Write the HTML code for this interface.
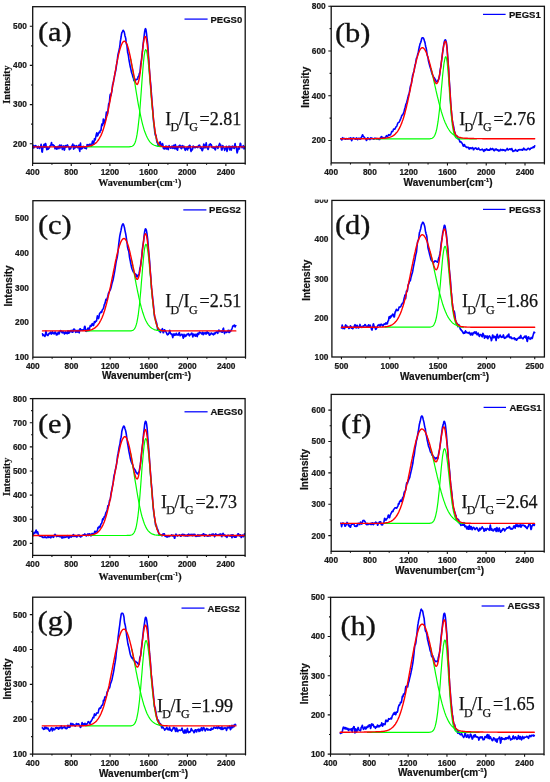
<!DOCTYPE html>
<html><head><meta charset="utf-8"><title>Raman spectra</title><style>html,body{margin:0;padding:0;background:#fff}svg{display:block}</style></head><body>
<svg width="550" height="782" viewBox="0 0 550 782">
<style>.tl{font-family:"Liberation Sans", Arial, sans-serif;font-weight:bold;font-size:8.3px;fill:#1a1a1a;stroke:#1a1a1a;stroke-width:0.22px}.tt{font-family:"Liberation Sans", Arial, sans-serif;font-weight:bold;font-size:10px;fill:#111;stroke:#111;stroke-width:0.2px}.ts{font-family:"Liberation Serif", "Times New Roman", serif;font-weight:bold;font-size:10.1px;fill:#111;stroke:#111;stroke-width:0.2px}.pl{font-family:"Liberation Serif", "Times New Roman", serif;font-size:30.5px;fill:#111;stroke:#111;stroke-width:0.35px}.lg{font-family:"Liberation Sans", Arial, sans-serif;font-weight:bold;font-size:9.5px;fill:#111;stroke:#111;stroke-width:0.2px}.rt{font-family:"Liberation Serif", "Times New Roman", serif;font-size:18px;fill:#111;stroke:#111;stroke-width:0.25px}</style>
<rect width="550" height="782" fill="#fff"/>
<clipPath id="clipa"><rect x="32.60" y="6.70" width="212.60" height="156.60"/></clipPath>
<g clip-path="url(#clipa)" fill="none" stroke-linejoin="round" stroke-linecap="round">
<path d="M32.6,145.7 33.0,145.1 33.4,146.7 33.8,147.9 34.1,146.1 34.5,145.9 34.9,146.9 35.3,146.1 35.7,145.6 36.1,146.1 36.5,146.2 36.9,146.6 37.2,147.7 37.6,148.1 38.0,147.3 38.4,146.3 38.8,146.6 39.2,147.9 39.6,148.5 39.9,147.9 40.3,147.3 40.7,146.3 41.1,144.3 41.5,146.4 41.9,151.8 42.3,152.1 42.7,148.9 43.0,147.5 43.4,146.7 43.8,144.7 44.2,144.3 44.6,147.2 45.0,146.7 45.4,143.5 45.7,143.7 46.1,145.7 46.5,148.4 46.9,149.7 47.3,147.8 47.7,147.5 48.1,149.2 48.4,148.8 48.8,148.0 49.2,148.1 49.6,147.0 50.0,145.8 50.4,145.8 50.8,145.5 51.2,143.6 51.5,142.5 51.9,144.0 52.3,145.1 52.7,144.7 53.1,144.7 53.5,145.4 53.9,146.2 54.2,145.6 54.6,146.7 55.0,148.8 55.4,148.2 55.8,146.7 56.2,147.1 56.6,149.0 57.0,149.2 57.3,147.8 57.7,147.3 58.1,146.3 58.5,146.8 58.9,148.6 59.3,146.8 59.7,145.0 60.0,147.0 60.4,147.8 60.8,146.1 61.2,145.2 61.6,145.5 62.0,147.9 62.4,149.5 62.8,148.5 63.1,147.0 63.5,145.9 63.9,147.2 64.3,150.2 64.7,149.3 65.1,145.9 65.5,145.6 65.8,147.3 66.2,147.0 66.6,145.8 67.0,145.1 67.4,144.9 67.8,145.9 68.2,147.0 68.5,146.5 68.9,147.2 69.3,149.7 69.7,148.8 70.1,148.0 70.5,148.8 70.9,148.0 71.3,146.9 71.6,146.1 72.0,145.9 72.4,145.0 72.8,144.1 73.2,146.0 73.6,149.1 74.0,148.5 74.3,145.4 74.7,146.2 75.1,147.9 75.5,147.3 75.9,146.4 76.3,145.6 76.7,146.1 77.1,147.4 77.4,147.6 77.8,147.5 78.2,147.6 78.6,145.4 79.0,145.1 79.4,149.9 79.8,151.4 80.1,145.8 80.5,143.1 80.9,147.3 81.3,149.0 81.7,147.5 82.1,148.0 82.5,148.4 82.9,147.2 83.2,146.4 83.6,146.6 84.0,146.6 84.4,147.3 84.8,148.2 85.2,148.3 85.6,148.1 85.9,147.9 86.3,148.8 86.7,147.5 87.1,144.6 87.5,144.8 87.9,145.4 88.3,145.1 88.6,145.8 89.0,145.5 89.4,144.2 89.8,144.8 90.2,145.4 90.6,144.2 91.0,144.9 91.4,146.3 91.7,145.7 92.1,142.8 92.5,141.1 92.9,142.4 93.3,143.8 93.7,144.2 94.1,141.5 94.4,138.8 94.8,139.6 95.2,139.9 95.6,137.9 96.0,135.9 96.4,134.0 96.8,132.7 97.2,134.4 97.5,136.0 97.9,135.2 98.3,133.9 98.7,133.0 99.1,132.2 99.5,132.7 99.9,132.7 100.2,130.6 100.6,130.6 101.0,130.4 101.4,126.7 101.8,124.1 102.2,124.2 102.6,125.4 103.0,123.5 103.3,119.0 103.7,119.7 104.1,123.1 104.5,122.4 104.9,121.0 105.3,120.4 105.7,118.2 106.0,115.3 106.4,112.1 106.8,112.6 107.2,115.0 107.6,113.4 108.0,110.1 108.4,106.3 108.7,103.7 109.1,103.3 109.5,101.5 109.9,96.3 110.3,94.2 110.7,95.9 111.1,94.9 111.5,92.8 111.8,91.6 112.2,88.5 112.6,84.6 113.0,84.0 113.4,82.3 113.8,79.3 114.2,78.0 114.5,76.3 114.9,74.0 115.3,72.3 115.7,70.8 116.1,68.1 116.5,65.1 116.9,62.6 117.3,60.2 117.6,57.3 118.0,54.5 118.4,52.9 118.8,51.3 119.2,49.3 119.6,47.4 120.0,44.5 120.3,41.3 120.7,39.4 121.1,37.0 121.5,34.1 121.9,32.4 122.3,31.9 122.7,31.3 123.1,30.3 123.4,30.3 123.8,31.1 124.2,31.8 124.6,33.6 125.0,35.9 125.4,37.1 125.8,38.8 126.1,41.9 126.5,44.3 126.9,45.3 127.3,49.2 127.7,52.8 128.1,54.1 128.5,56.2 128.8,58.7 129.2,61.1 129.6,63.2 130.0,65.3 130.4,67.3 130.8,68.9 131.2,70.9 131.6,72.7 131.9,73.5 132.3,74.3 132.7,76.2 133.1,77.4 133.5,78.3 133.9,80.5 134.3,80.9 134.6,80.4 135.0,80.7 135.4,80.2 135.8,79.3 136.2,79.3 136.6,79.7 137.0,79.4 137.4,79.1 137.7,78.5 138.1,76.8 138.5,76.4 138.9,76.0 139.3,73.7 139.7,72.9 140.1,71.9 140.4,67.6 140.8,63.7 141.2,62.0 141.6,58.8 142.0,55.0 142.4,51.7 142.8,47.2 143.2,43.5 143.5,41.1 143.9,38.0 144.3,34.5 144.7,31.4 145.1,29.3 145.5,28.7 145.9,29.4 146.2,31.2 146.6,34.2 147.0,38.0 147.4,41.1 147.8,44.9 148.2,51.3 148.6,57.7 149.0,62.9 149.3,68.5 149.7,73.8 150.1,78.5 150.5,82.5 150.9,86.5 151.3,92.2 151.7,97.3 152.0,101.8 152.4,106.4 152.8,110.6 153.2,116.6 153.6,121.8 154.0,124.5 154.4,127.9 154.7,131.4 155.1,134.1 155.5,135.4 155.9,135.0 156.3,137.1 156.7,140.8 157.1,142.6 157.5,142.9 157.8,143.9 158.2,145.7 158.6,146.0 159.0,145.3 159.4,144.3 159.8,142.3 160.2,141.8 160.5,143.0 160.9,144.5 161.3,145.6 161.7,144.8 162.1,144.3 162.5,143.5 162.9,144.7 163.3,148.2 163.6,148.7 164.0,147.8 164.4,147.8 164.8,148.9 165.2,148.7 165.6,146.7 166.0,146.0 166.3,147.3 166.7,149.0 167.1,148.3 167.5,146.6 167.9,148.3 168.3,149.6 168.7,147.3 169.1,145.6 169.4,146.2 169.8,146.8 170.2,147.4 170.6,148.2 171.0,148.0 171.4,147.4 171.8,146.2 172.1,146.1 172.5,148.0 172.9,148.3 173.3,146.7 173.7,145.2 174.1,146.6 174.5,148.6 174.8,147.3 175.2,144.5 175.6,145.1 176.0,149.0 176.4,148.8 176.8,147.0 177.2,149.7 177.6,150.2 177.9,147.0 178.3,146.2 178.7,147.5 179.1,147.2 179.5,145.9 179.9,145.2 180.3,145.7 180.6,146.8 181.0,148.4 181.4,148.7 181.8,147.1 182.2,145.5 182.6,146.4 183.0,147.8 183.4,146.6 183.7,146.0 184.1,147.4 184.5,148.3 184.9,149.5 185.3,150.3 185.7,148.5 186.1,147.8 186.4,148.2 186.8,148.2 187.2,149.6 187.6,150.0 188.0,147.3 188.4,146.2 188.8,148.2 189.2,147.3 189.5,145.4 189.9,145.4 190.3,146.3 190.7,150.1 191.1,151.4 191.5,149.2 191.9,149.2 192.2,150.0 192.6,148.9 193.0,146.2 193.4,146.0 193.8,147.4 194.2,146.7 194.6,146.9 194.9,147.7 195.3,147.8 195.7,147.4 196.1,146.6 196.5,147.0 196.9,147.2 197.3,146.8 197.7,147.6 198.0,147.3 198.4,145.6 198.8,145.4 199.2,145.9 199.6,145.2 200.0,146.2 200.4,148.3 200.7,148.4 201.1,147.2 201.5,148.0 201.9,150.2 202.3,150.7 202.7,149.9 203.1,148.3 203.5,145.4 203.8,144.0 204.2,144.9 204.6,146.7 205.0,148.0 205.4,147.2 205.8,144.6 206.2,142.9 206.5,144.8 206.9,147.3 207.3,148.2 207.7,149.0 208.1,149.4 208.5,148.4 208.9,146.1 209.3,144.6 209.6,145.1 210.0,144.1 210.4,143.8 210.8,144.9 211.2,144.5 211.6,145.6 212.0,147.5 212.3,147.5 212.7,147.6 213.1,148.1 213.5,148.0 213.9,147.2 214.3,147.5 214.7,148.7 215.0,149.5 215.4,149.8 215.8,147.9 216.2,146.3 216.6,146.7 217.0,146.6 217.4,147.0 217.8,148.4 218.1,148.1 218.5,146.3 218.9,145.4 219.3,144.3 219.7,143.4 220.1,145.0 220.5,145.2 220.8,145.0 221.2,147.5 221.6,150.0 222.0,150.0 222.4,147.5 222.8,145.6 223.2,146.2 223.6,147.5 223.9,147.7 224.3,148.7 224.7,150.4 225.1,148.9 225.5,148.5 225.9,148.1 226.3,146.4 226.6,149.0 227.0,151.4 227.4,149.5 227.8,147.5 228.2,147.6 228.6,146.8 229.0,146.0 229.4,147.8 229.7,150.0 230.1,148.3 230.5,146.5 230.9,149.0 231.3,150.1 231.7,147.9 232.1,146.3 232.4,146.0 232.8,147.1 233.2,148.0 233.6,146.6 234.0,147.3 234.4,148.5 234.8,144.7 235.1,143.5 235.5,147.0 235.9,147.1 236.3,146.6 236.7,150.4 237.1,152.9 237.5,151.7 237.9,150.0 238.2,148.5 238.6,146.9 239.0,147.7 239.4,148.9 239.8,146.3 240.2,143.3 240.6,143.5 240.9,145.2 241.3,146.1 241.7,146.9 242.1,147.8 242.5,147.3 242.9,146.3 243.3,145.6 243.7,146.9 244.0,148.9 244.4,147.3 244.8,146.5 245.2,148.5" stroke="#0000ff" stroke-width="1.6"/>
<path d="M130.7,59.2 131.4,63.0 132.1,67.0 132.9,71.2 133.6,75.5 134.3,79.8 135.0,84.2 135.7,88.6 136.4,93.0 137.1,97.2 137.8,101.3 138.5,105.3 139.3,109.1 140.0,112.7 140.7,116.1 141.4,119.3 142.1,122.3 142.8,125.1 143.5,127.6 144.2,130.0 144.9,132.1 145.7,134.0 146.4,135.7 147.1,137.2 147.8,138.6 148.5,139.8 149.2,140.9 149.9,141.8 150.6,142.6 151.3,143.3 152.1,143.9 152.8,144.4 153.5,144.8 154.2,145.2 154.9,145.5 155.6,145.7 156.3,145.9 157.0,146.1 157.7,146.3 158.5,146.4 159.2,146.5 159.9,146.6 160.6,146.6 161.3,146.7 162.0,146.7" stroke="#00ff00" stroke-width="1.2"/>
<path d="M86.6,146.9 87.3,146.9 88.1,146.9 88.8,146.9 89.5,146.9 90.2,146.9 90.9,146.9 91.6,146.9 92.3,146.9 93.0,146.9 93.7,146.9 94.5,146.9 95.2,146.9 95.9,146.9 96.6,146.9 97.3,146.9 98.0,146.9 98.7,146.9 99.4,146.9 100.1,146.9 100.9,146.9 101.6,146.9 102.3,146.9 103.0,146.9 103.7,146.9 104.4,146.9 105.1,146.9 105.8,146.9 106.5,146.9 107.3,146.9 108.0,146.9 108.7,146.9 109.4,146.9 110.1,146.9 110.8,146.9 111.5,146.9 112.2,146.9 112.9,146.9 113.7,146.9 114.4,146.9 115.1,146.9 115.8,146.9 116.5,146.9 117.2,146.9 117.9,146.9 118.6,146.9 119.3,146.9 120.1,146.9 120.8,146.9 121.5,146.9 122.2,146.9 122.9,146.9 123.6,146.9 124.3,146.9 125.0,146.9 125.7,146.9 126.5,146.9 127.2,146.9 127.9,146.8 128.6,146.8 129.3,146.8 130.0,146.7 130.7,146.7 131.4,146.5 132.1,146.2 132.9,145.8 133.6,145.2 134.3,144.2 135.0,142.8 135.7,140.7 136.4,137.9 137.1,134.2 137.8,129.4 138.5,123.4 139.3,116.2 140.0,107.9 140.7,98.8 141.4,89.1 142.1,79.3 142.8,70.0 143.5,61.9 144.2,55.5 144.9,51.3 145.7,49.6 146.4,50.4 147.1,53.3 147.8,58.1 148.5,64.6 149.2,72.2 149.9,80.6 150.6,89.4 151.3,98.1 152.1,106.4 152.8,114.0 153.5,120.8 154.2,126.6 154.9,131.5 155.6,135.4 156.3,138.6 157.0,141.0 157.7,142.8 158.5,144.1 159.2,145.0 159.9,145.7" stroke="#00ff00" stroke-width="1.2"/>
<path d="M32.6,146.9 33.3,146.9 34.0,146.9 34.7,146.9 35.4,146.9 36.2,146.9 36.9,146.9 37.6,146.9 38.3,146.9 39.0,146.9 39.7,146.9 40.4,146.9 41.1,146.9 41.8,146.9 42.6,146.9 43.3,146.9 44.0,146.9 44.7,146.9 45.4,146.9 46.1,146.9 46.8,146.9 47.5,146.9 48.2,146.9 49.0,146.9 49.7,146.9 50.4,146.9 51.1,146.9 51.8,146.9 52.5,146.9 53.2,146.9 53.9,146.9 54.6,146.9 55.4,146.9 56.1,146.9 56.8,146.9 57.5,146.9 58.2,146.9 58.9,146.9 59.6,146.9 60.3,146.9 61.0,146.9 61.8,146.9 62.5,146.9 63.2,146.9 63.9,146.9 64.6,146.9 65.3,146.9 66.0,146.9 66.7,146.9 67.4,146.9 68.2,146.9 68.9,146.9 69.6,146.9 70.3,146.9 71.0,146.9 71.7,146.9 72.4,146.9 73.1,146.9 73.8,146.9 74.6,146.9 75.3,146.9 76.0,146.9 76.7,146.9 77.4,146.9 78.1,146.8 78.8,146.8 79.5,146.8 80.2,146.8 81.0,146.8 81.7,146.8 82.4,146.8 83.1,146.8 83.8,146.7 84.5,146.7 85.2,146.6 85.9,146.6 86.6,146.5 87.3,146.4 88.1,146.4 88.8,146.2 89.5,146.1 90.2,145.9 90.9,145.7 91.6,145.5 92.3,145.2 93.0,144.9 93.7,144.5 94.5,144.0 95.2,143.5 95.9,142.9 96.6,142.2 97.3,141.4 98.0,140.5 98.7,139.5 99.4,138.3 100.1,137.0 100.9,135.6 101.6,134.0 102.3,132.2 103.0,130.2 103.7,128.1 104.4,125.8 105.1,123.2 105.8,120.5 106.5,117.6 107.3,114.5 108.0,111.3 108.7,107.8 109.4,104.2 110.1,100.5 110.8,96.6 111.5,92.7 112.2,88.7 112.9,84.6 113.7,80.5 114.4,76.4 115.1,72.4 115.8,68.5 116.5,64.7 117.2,61.0 117.9,57.6 118.6,54.4 119.3,51.5 120.1,48.9 120.8,46.6 121.5,44.7 122.2,43.2 122.9,42.1 123.6,41.4 124.3,41.2 125.0,41.4 125.7,42.1 126.5,43.3 127.2,44.9 127.9,47.0 128.6,49.5 129.3,52.4 130.0,55.5 130.7,59.0 131.4,62.6 132.1,66.4 132.9,70.2 133.6,73.8 134.3,77.2 135.0,80.2 135.7,82.5 136.4,84.0 137.1,84.5 137.8,83.8 138.5,81.8 139.3,78.5 140.0,73.8 140.7,68.0 141.4,61.5 142.1,54.8 142.8,48.3 143.5,42.7 144.2,38.6 144.9,36.5 145.7,36.7 146.4,39.3 147.1,43.7 147.8,49.9 148.5,57.5 149.2,66.2 149.9,75.6 150.6,85.1 151.3,94.5 152.1,103.4 152.8,111.5 153.5,118.7 154.2,124.9 154.9,130.1 155.6,134.3 156.3,137.7 157.0,140.2 157.7,142.2 158.5,143.6 159.2,144.6 159.9,145.4 160.6,145.9 161.3,146.2 162.0,146.4 162.7,146.6 163.4,146.7 164.1,146.7 164.9,146.8 165.6,146.8 166.3,146.8 167.0,146.8 167.7,146.8 168.4,146.8 169.1,146.9 169.8,146.9 170.5,146.9 171.3,146.9 172.0,146.9 172.7,146.9 173.4,146.9 174.1,146.9 174.8,146.9 175.5,146.9 176.2,146.9 176.9,146.9 177.7,146.9 178.4,146.9 179.1,146.9 179.8,146.9 180.5,146.9 181.2,146.9 181.9,146.9 182.6,146.9 183.3,146.9 184.1,146.9 184.8,146.9 185.5,146.9 186.2,146.9 186.9,146.9 187.6,146.9 188.3,146.9 189.0,146.9 189.7,146.9 190.5,146.9 191.2,146.9 191.9,146.9 192.6,146.9 193.3,146.9 194.0,146.9 194.7,146.9 195.4,146.9 196.1,146.9 196.8,146.9 197.6,146.9 198.3,146.9 199.0,146.9 199.7,146.9 200.4,146.9 201.1,146.9 201.8,146.9 202.5,146.9 203.2,146.9 204.0,146.9 204.7,146.9 205.4,146.9 206.1,146.9 206.8,146.9 207.5,146.9 208.2,146.9 208.9,146.9 209.6,146.9 210.4,146.9 211.1,146.9 211.8,146.9 212.5,146.9 213.2,146.9 213.9,146.9 214.6,146.9 215.3,146.9 216.0,146.9 216.8,146.9 217.5,146.9 218.2,146.9 218.9,146.9 219.6,146.9 220.3,146.9 221.0,146.9 221.7,146.9 222.4,146.9 223.2,146.9 223.9,146.9 224.6,146.9 225.3,146.9 226.0,146.9 226.7,146.9 227.4,146.9 228.1,146.9 228.8,146.9 229.6,146.9 230.3,146.9 231.0,146.9 231.7,146.9 232.4,146.9 233.1,146.9 233.8,146.9 234.5,146.9 235.2,146.9 236.0,146.9 236.7,146.9 237.4,146.9 238.1,146.9 238.8,146.9 239.5,146.9 240.2,146.9 240.9,146.9 241.6,146.9 242.4,146.9 243.1,146.9 243.8,146.9 244.5,146.9 245.2,146.9" stroke="#ff0000" stroke-width="1.4"/>
</g>
<rect x="32.70" y="6.70" width="212.50" height="156.60" fill="none" stroke="#111" stroke-width="1.3"/>
<path d="M32.60,163.30v2.6 M71.25,163.30v2.6 M109.91,163.30v2.6 M148.56,163.30v2.6 M187.22,163.30v2.6 M225.87,163.30v2.6 M51.93,163.30v1.5 M90.58,163.30v1.5 M129.24,163.30v1.5 M167.89,163.30v1.5 M206.55,163.30v1.5 M245.20,163.30v1.5 M32.60,143.73h-2.8 M32.60,104.58h-2.8 M32.60,65.42h-2.8 M32.60,26.27h-2.8 M32.60,124.15h-1.5 M32.60,85.00h-1.5 M32.60,45.85h-1.5" stroke="#111" stroke-width="1.1" fill="none"/>
<text x="32.60" y="175.30" text-anchor="middle" class="tl">400</text>
<text x="71.25" y="175.30" text-anchor="middle" class="tl">800</text>
<text x="109.91" y="175.30" text-anchor="middle" class="tl">1200</text>
<text x="148.56" y="175.30" text-anchor="middle" class="tl">1600</text>
<text x="187.22" y="175.30" text-anchor="middle" class="tl">2000</text>
<text x="225.87" y="175.30" text-anchor="middle" class="tl">2400</text>
<text x="26.90" y="146.63" text-anchor="end" class="tl">200</text>
<text x="26.90" y="107.48" text-anchor="end" class="tl">300</text>
<text x="26.90" y="68.33" text-anchor="end" class="tl">400</text>
<text x="26.90" y="29.17" text-anchor="end" class="tl">500</text>
<text x="98.20" y="186.20" class="ts">Wavenumber(cm<tspan dy="-3.6" font-size="6.2">-1</tspan><tspan dy="3.6">)</tspan></text>
<text transform="translate(9.80,84.60) rotate(-90)" text-anchor="middle" class="ts">Intensity</text>
<text transform="translate(37.90,41.15) scale(1,0.93)" class="pl">(a)</text>
<path d="M184.50,19.10H207.60" stroke="#0000ff" stroke-width="1.25"/>
<text x="210.50" y="22.50" class="lg">PEGS0</text>
<text x="165.30" y="124.50" class="rt">I<tspan x="170.50" dy="6.4" font-size="12">D</tspan><tspan x="178.70" dy="-6.4">/I</tspan><tspan x="189.20" dy="6.4" font-size="12">G</tspan><tspan x="199.60" dy="-6.4">=2.81</tspan></text>
<clipPath id="clipb"><rect x="331.10" y="6.30" width="213.30" height="156.60"/></clipPath>
<g clip-path="url(#clipb)" fill="none" stroke-linejoin="round" stroke-linecap="round">
<path d="M340.8,138.8 341.2,139.2 341.6,139.9 342.0,139.8 342.3,138.1 342.7,137.7 343.1,138.4 343.5,138.4 343.9,138.6 344.3,138.7 344.7,138.5 345.1,138.8 345.4,139.3 345.8,139.2 346.2,138.8 346.6,138.6 347.0,138.7 347.4,138.9 347.8,139.1 348.2,139.0 348.6,138.5 348.9,138.3 349.3,138.4 349.7,138.7 350.1,139.0 350.5,138.0 350.9,137.8 351.3,139.6 351.7,140.6 352.0,139.9 352.4,138.7 352.8,138.1 353.2,137.9 353.6,138.0 354.0,138.3 354.4,138.6 354.8,138.5 355.1,138.6 355.5,139.3 355.9,139.2 356.3,138.2 356.7,137.9 357.1,139.0 357.5,139.7 357.9,139.1 358.2,138.4 358.6,138.2 359.0,138.6 359.4,139.1 359.8,138.3 360.2,138.2 360.6,139.1 361.0,138.4 361.3,137.4 361.7,137.0 362.1,135.8 362.5,134.7 362.9,135.3 363.3,136.4 363.7,136.8 364.1,137.0 364.5,137.7 364.8,138.3 365.2,138.4 365.6,138.5 366.0,139.5 366.4,140.5 366.8,140.1 367.2,138.7 367.6,137.8 367.9,137.8 368.3,138.4 368.7,138.9 369.1,138.6 369.5,138.9 369.9,139.6 370.3,139.0 370.7,137.8 371.0,137.8 371.4,138.4 371.8,138.8 372.2,138.8 372.6,138.3 373.0,138.6 373.4,139.1 373.8,139.1 374.1,139.1 374.5,138.4 374.9,138.1 375.3,138.3 375.7,138.2 376.1,138.5 376.5,138.9 376.9,139.0 377.3,138.8 377.6,138.6 378.0,138.9 378.4,139.1 378.8,139.2 379.2,139.5 379.6,139.5 380.0,138.8 380.4,137.9 380.7,137.4 381.1,136.9 381.5,136.5 381.9,137.3 382.3,137.6 382.7,137.3 383.1,137.6 383.5,137.8 383.8,137.8 384.2,138.2 384.6,138.2 385.0,137.4 385.4,137.2 385.8,137.1 386.2,135.9 386.6,135.7 386.9,136.4 387.3,136.6 387.7,136.2 388.1,135.6 388.5,134.8 388.9,134.6 389.3,135.1 389.7,135.1 390.0,135.0 390.4,134.8 390.8,134.1 391.2,133.0 391.6,131.8 392.0,131.4 392.4,131.6 392.8,131.3 393.2,130.2 393.5,129.2 393.9,129.0 394.3,129.2 394.7,129.3 395.1,128.8 395.5,127.8 395.9,127.0 396.3,126.7 396.6,126.4 397.0,125.5 397.4,124.3 397.8,123.2 398.2,122.6 398.6,122.4 399.0,122.2 399.4,121.6 399.7,121.0 400.1,120.2 400.5,119.1 400.9,118.2 401.3,117.1 401.7,115.8 402.1,115.1 402.5,115.0 402.8,114.8 403.2,113.7 403.6,112.7 404.0,111.8 404.4,109.9 404.8,108.5 405.2,107.2 405.6,105.4 405.9,104.1 406.3,103.4 406.7,102.5 407.1,100.7 407.5,99.2 407.9,97.8 408.3,95.7 408.7,94.5 409.1,93.9 409.4,92.1 409.8,89.9 410.2,87.3 410.6,85.6 411.0,84.9 411.4,83.2 411.8,80.9 412.2,78.5 412.5,76.0 412.9,74.4 413.3,73.2 413.7,71.9 414.1,70.7 414.5,68.2 414.9,65.8 415.3,64.6 415.6,63.2 416.0,60.6 416.4,58.3 416.8,57.6 417.2,56.5 417.6,54.7 418.0,53.6 418.4,51.8 418.7,49.7 419.1,48.0 419.5,46.3 419.9,44.3 420.3,43.2 420.7,42.6 421.1,41.3 421.5,39.5 421.8,38.2 422.2,37.7 422.6,37.7 423.0,37.7 423.4,38.1 423.8,38.9 424.2,40.1 424.6,41.6 425.0,42.6 425.3,44.4 425.7,46.5 426.1,47.8 426.5,49.9 426.9,53.1 427.3,55.4 427.7,56.5 428.1,58.2 428.4,60.6 428.8,62.4 429.2,63.8 429.6,65.4 430.0,66.8 430.4,67.9 430.8,69.2 431.2,70.8 431.5,72.1 431.9,73.3 432.3,74.5 432.7,75.3 433.1,76.0 433.5,76.9 433.9,77.4 434.3,77.8 434.6,78.3 435.0,79.0 435.4,79.6 435.8,80.5 436.2,81.3 436.6,81.8 437.0,81.6 437.4,81.0 437.8,80.6 438.1,80.1 438.5,79.6 438.9,78.4 439.3,76.8 439.7,74.3 440.1,70.6 440.5,68.1 440.9,66.4 441.2,63.6 441.6,60.5 442.0,57.4 442.4,54.1 442.8,51.1 443.2,48.3 443.6,45.6 444.0,43.4 444.3,41.7 444.7,40.5 445.1,39.9 445.5,39.9 445.9,40.6 446.3,42.1 446.7,44.5 447.1,48.2 447.4,52.9 447.8,58.0 448.2,63.5 448.6,68.9 449.0,75.4 449.4,82.2 449.8,87.7 450.2,93.9 450.5,100.9 450.9,105.9 451.3,110.4 451.7,115.3 452.1,119.0 452.5,121.6 452.9,123.7 453.3,125.3 453.7,126.9 454.0,129.3 454.4,131.0 454.8,132.3 455.2,133.8 455.6,135.6 456.0,136.7 456.4,136.5 456.8,135.9 457.1,136.0 457.5,137.1 457.9,138.4 458.3,139.1 458.7,138.8 459.1,139.3 459.5,140.8 459.9,141.9 460.2,142.0 460.6,141.5 461.0,141.9 461.4,142.7 461.8,142.9 462.2,143.3 462.6,144.3 463.0,145.4 463.3,146.1 463.7,146.0 464.1,144.7 464.5,144.5 464.9,146.1 465.3,146.4 465.7,146.4 466.1,147.1 466.4,147.5 466.8,147.5 467.2,147.2 467.6,147.4 468.0,147.5 468.4,147.3 468.8,148.3 469.2,149.1 469.6,148.5 469.9,147.7 470.3,147.8 470.7,148.3 471.1,148.7 471.5,148.3 471.9,147.9 472.3,147.7 472.7,147.5 473.0,148.5 473.4,149.8 473.8,149.7 474.2,148.7 474.6,148.4 475.0,148.3 475.4,148.1 475.8,147.8 476.1,148.2 476.5,149.1 476.9,149.0 477.3,149.0 477.7,149.3 478.1,148.6 478.5,148.0 478.9,148.6 479.2,149.2 479.6,149.6 480.0,150.0 480.4,149.9 480.8,149.8 481.2,149.7 481.6,149.7 482.0,149.2 482.3,149.1 482.7,149.7 483.1,150.0 483.5,151.0 483.9,151.4 484.3,150.3 484.7,149.5 485.1,149.8 485.5,150.4 485.8,150.1 486.2,149.2 486.6,148.9 487.0,149.2 487.4,149.7 487.8,150.1 488.2,150.2 488.6,149.8 488.9,149.7 489.3,150.3 489.7,150.3 490.1,149.1 490.5,148.4 490.9,148.9 491.3,149.5 491.7,149.5 492.0,149.0 492.4,148.6 492.8,148.5 493.2,149.3 493.6,150.3 494.0,150.6 494.4,150.8 494.8,150.3 495.1,149.1 495.5,149.2 495.9,149.7 496.3,149.0 496.7,149.3 497.1,150.1 497.5,149.8 497.9,149.9 498.2,150.7 498.6,151.0 499.0,150.2 499.4,150.3 499.8,150.9 500.2,150.0 500.6,149.3 501.0,149.8 501.4,149.9 501.7,150.1 502.1,150.4 502.5,149.8 502.9,149.5 503.3,150.1 503.7,150.0 504.1,149.8 504.5,150.2 504.8,150.6 505.2,150.9 505.6,150.6 506.0,149.9 506.4,149.8 506.8,149.3 507.2,148.4 507.6,149.2 507.9,149.9 508.3,150.0 508.7,149.7 509.1,149.3 509.5,149.3 509.9,148.8 510.3,149.0 510.7,149.7 511.0,149.7 511.4,149.1 511.8,148.5 512.2,149.5 512.6,150.9 513.0,151.5 513.4,151.2 513.8,150.7 514.2,150.8 514.5,150.9 514.9,150.6 515.3,149.7 515.7,149.5 516.1,150.5 516.5,150.8 516.9,150.9 517.3,151.3 517.6,151.2 518.0,150.4 518.4,149.7 518.8,149.8 519.2,150.0 519.6,149.5 520.0,149.5 520.4,149.7 520.7,149.9 521.1,150.0 521.5,149.5 521.9,149.5 522.3,150.2 522.7,150.2 523.1,149.2 523.5,148.4 523.8,148.2 524.2,149.1 524.6,149.6 525.0,149.7 525.4,149.5 525.8,149.5 526.2,150.0 526.6,150.0 526.9,149.5 527.3,149.2 527.7,148.7 528.1,148.2 528.5,148.2 528.9,148.6 529.3,149.2 529.7,149.6 530.1,149.4 530.4,148.7 530.8,148.1 531.2,148.3 531.6,148.3 532.0,147.6 532.4,147.6 532.8,147.6 533.2,146.8 533.5,146.8 533.9,147.6 534.3,147.1 534.7,145.8" stroke="#0000ff" stroke-width="1.6"/>
<path d="M430.9,68.2 431.6,70.9 432.2,73.7 432.9,76.5 433.5,79.4 434.2,82.3 434.8,85.2 435.5,88.1 436.1,90.9 436.8,93.8 437.4,96.5 438.1,99.2 438.7,101.9 439.4,104.4 440.0,106.8 440.7,109.2 441.3,111.5 442.0,113.6 442.6,115.6 443.3,117.6 443.9,119.4 444.6,121.1 445.2,122.7 445.9,124.1 446.5,125.5 447.2,126.8 447.8,128.0 448.5,129.0 449.1,130.0 449.7,130.9 450.4,131.8 451.0,132.5 451.7,133.2 452.3,133.8 453.0,134.3 453.6,134.8 454.3,135.3 454.9,135.7 455.6,136.0 456.2,136.3 456.9,136.6 457.5,136.9" stroke="#00ff00" stroke-width="1.2"/>
<path d="M373.9,138.9 374.5,138.9 375.2,138.9 375.8,138.9 376.5,138.9 377.1,138.9 377.8,138.9 378.4,138.9 379.1,138.9 379.7,138.9 380.4,138.9 381.0,138.9 381.7,138.9 382.3,138.9 382.9,138.9 383.6,138.9 384.2,138.9 384.9,138.9 385.5,138.9 386.2,138.9 386.8,138.9 387.5,138.9 388.1,138.9 388.8,138.9 389.4,138.9 390.1,138.9 390.7,138.9 391.4,138.9 392.0,138.9 392.7,138.9 393.3,138.9 394.0,138.9 394.6,138.9 395.3,138.9 395.9,138.9 396.6,138.9 397.2,138.9 397.9,138.9 398.5,138.9 399.2,138.9 399.8,138.9 400.5,138.9 401.1,138.9 401.8,138.9 402.4,138.9 403.1,138.9 403.7,138.9 404.4,138.9 405.0,138.9 405.6,138.9 406.3,138.9 406.9,138.9 407.6,138.9 408.2,138.9 408.9,138.9 409.5,138.9 410.2,138.9 410.8,138.9 411.5,138.9 412.1,138.9 412.8,138.9 413.4,138.9 414.1,138.9 414.7,138.9 415.4,138.9 416.0,138.9 416.7,138.9 417.3,138.9 418.0,138.9 418.6,138.9 419.3,138.9 419.9,138.9 420.6,138.9 421.2,138.9 421.9,138.9 422.5,138.9 423.2,138.9 423.8,138.9 424.5,138.9 425.1,138.9 425.8,138.9 426.4,138.9 427.0,138.9 427.7,138.9 428.3,138.9 429.0,138.9 429.6,138.8 430.3,138.7 430.9,138.6 431.6,138.5 432.2,138.2 432.9,137.8 433.5,137.2 434.2,136.3 434.8,135.2 435.5,133.6 436.1,131.5 436.8,128.8 437.4,125.3 438.1,121.2 438.7,116.3 439.4,110.6 440.0,104.2 440.7,97.3 441.3,90.0 442.0,82.8 442.6,75.8 443.3,69.5 443.9,64.1 444.6,60.1 445.2,57.5 445.9,56.7 446.5,58.3 447.2,62.5 447.8,69.0 448.5,77.2 449.1,86.3 449.7,95.6 450.4,104.4 451.0,112.4 451.7,119.3 452.3,124.9 453.0,129.2 453.6,132.4 454.3,134.7 454.9,136.3 455.6,137.4 456.2,138.0 456.9,138.4 457.5,138.6 458.2,138.8 458.8,138.8 459.5,138.9 460.1,138.9 460.8,138.9 461.4,138.9 462.1,138.9 462.7,138.9 463.4,138.9 464.0,138.9 464.7,138.9 465.3,138.9 466.0,138.9 466.6,138.9 467.3,138.9 467.9,138.9 468.6,138.9 469.2,138.9 469.9,138.9 470.5,138.9 471.1,138.9 471.8,138.9 472.4,138.9 473.1,138.9 473.7,138.9 474.4,138.9 475.0,138.9 475.7,138.9 476.3,138.9" stroke="#00ff00" stroke-width="1.2"/>
<path d="M340.8,138.8 341.4,138.8 342.1,138.8 342.7,138.8 343.4,138.8 344.0,138.8 344.7,138.8 345.3,138.8 346.0,138.8 346.6,138.8 347.3,138.8 347.9,138.8 348.6,138.8 349.2,138.8 349.9,138.8 350.5,138.8 351.2,138.8 351.8,138.8 352.5,138.8 353.1,138.8 353.8,138.8 354.4,138.7 355.1,138.7 355.7,138.7 356.4,138.7 357.0,138.7 357.7,138.7 358.3,138.7 359.0,138.7 359.6,138.7 360.3,138.7 360.9,138.7 361.5,138.7 362.2,138.7 362.8,138.7 363.5,138.7 364.1,138.7 364.8,138.7 365.4,138.7 366.1,138.7 366.7,138.7 367.4,138.7 368.0,138.7 368.7,138.6 369.3,138.6 370.0,138.6 370.6,138.6 371.3,138.6 371.9,138.6 372.6,138.6 373.2,138.6 373.9,138.6 374.5,138.6 375.2,138.6 375.8,138.6 376.5,138.5 377.1,138.5 377.8,138.5 378.4,138.5 379.1,138.5 379.7,138.5 380.4,138.4 381.0,138.4 381.7,138.4 382.3,138.3 382.9,138.3 383.6,138.3 384.2,138.2 384.9,138.1 385.5,138.1 386.2,138.0 386.8,137.9 387.5,137.8 388.1,137.7 388.8,137.5 389.4,137.3 390.1,137.1 390.7,136.9 391.4,136.6 392.0,136.3 392.7,136.0 393.3,135.6 394.0,135.1 394.6,134.6 395.3,134.0 395.9,133.3 396.6,132.6 397.2,131.8 397.9,130.8 398.5,129.8 399.2,128.7 399.8,127.4 400.5,126.0 401.1,124.5 401.8,122.9 402.4,121.1 403.1,119.2 403.7,117.2 404.4,115.0 405.0,112.7 405.6,110.2 406.3,107.6 406.9,104.9 407.6,102.0 408.2,99.1 408.9,96.1 409.5,92.9 410.2,89.8 410.8,86.5 411.5,83.3 412.1,80.0 412.8,76.8 413.4,73.6 414.1,70.5 414.7,67.5 415.4,64.6 416.0,61.8 416.7,59.2 417.3,56.9 418.0,54.7 418.6,52.9 419.3,51.2 419.9,49.9 420.6,48.9 421.2,48.2 421.9,47.8 422.5,47.7 423.2,47.9 423.8,48.4 424.5,49.2 425.1,50.1 425.8,51.4 426.4,52.8 427.0,54.5 427.7,56.4 428.3,58.4 429.0,60.6 429.6,62.9 430.3,65.4 430.9,67.9 431.6,70.4 432.2,72.9 432.9,75.3 433.5,77.6 434.2,79.7 434.8,81.4 435.5,82.7 436.1,83.5 436.8,83.6 437.4,82.9 438.1,81.5 438.7,79.2 439.4,76.0 440.0,72.1 440.7,67.5 441.3,62.6 442.0,57.5 442.6,52.5 443.3,48.1 443.9,44.6 444.6,42.2 445.2,41.3 445.9,41.9 446.5,44.9 447.2,50.4 447.8,58.1 448.5,67.3 449.1,77.4 449.7,87.6 450.4,97.3 451.0,106.0 451.7,113.5 452.3,119.7 453.0,124.6 453.6,128.3 454.3,131.1 454.9,133.1 455.6,134.4 456.2,135.4 456.9,136.1 457.5,136.6 458.2,136.9 458.8,137.2 459.5,137.4 460.1,137.5 460.8,137.7 461.4,137.8 462.1,137.9 462.7,138.0 463.4,138.1 464.0,138.1 464.7,138.2 465.3,138.2 466.0,138.3 466.6,138.3 467.3,138.3 467.9,138.4 468.6,138.4 469.2,138.4 469.9,138.5 470.5,138.5 471.1,138.5 471.8,138.5 472.4,138.5 473.1,138.5 473.7,138.5 474.4,138.6 475.0,138.6 475.7,138.6 476.3,138.6 477.0,138.6 477.6,138.6 478.3,138.6 478.9,138.6 479.6,138.6 480.2,138.6 480.9,138.6 481.5,138.6 482.2,138.6 482.8,138.7 483.5,138.7 484.1,138.7 484.8,138.7 485.4,138.7 486.1,138.7 486.7,138.7 487.4,138.7 488.0,138.7 488.7,138.7 489.3,138.7 490.0,138.7 490.6,138.7 491.3,138.7 491.9,138.7 492.6,138.7 493.2,138.7 493.8,138.7 494.5,138.7 495.1,138.7 495.8,138.7 496.4,138.7 497.1,138.7 497.7,138.7 498.4,138.7 499.0,138.8 499.7,138.8 500.3,138.8 501.0,138.8 501.6,138.8 502.3,138.8 502.9,138.8 503.6,138.8 504.2,138.8 504.9,138.8 505.5,138.8 506.2,138.8 506.8,138.8 507.5,138.8 508.1,138.8 508.8,138.8 509.4,138.8 510.1,138.8 510.7,138.8 511.4,138.8 512.0,138.8 512.7,138.8 513.3,138.8 514.0,138.8 514.6,138.8 515.2,138.8 515.9,138.8 516.5,138.8 517.2,138.8 517.8,138.8 518.5,138.8 519.1,138.8 519.8,138.8 520.4,138.8 521.1,138.8 521.7,138.8 522.4,138.8 523.0,138.8 523.7,138.8 524.3,138.8 525.0,138.8 525.6,138.8 526.3,138.8 526.9,138.8 527.6,138.8 528.2,138.8 528.9,138.8 529.5,138.8 530.2,138.8 530.8,138.8 531.5,138.8 532.1,138.8 532.8,138.8 533.4,138.8 534.1,138.8 534.7,138.8" stroke="#ff0000" stroke-width="1.4"/>
</g>
<rect x="331.20" y="6.30" width="213.20" height="156.60" fill="none" stroke="#111" stroke-width="1.3"/>
<path d="M331.10,162.90v2.6 M369.88,162.90v2.6 M408.66,162.90v2.6 M447.45,162.90v2.6 M486.23,162.90v2.6 M525.01,162.90v2.6 M350.49,162.90v1.5 M389.27,162.90v1.5 M428.05,162.90v1.5 M466.84,162.90v1.5 M505.62,162.90v1.5 M544.40,162.90v1.5 M331.10,140.53h-2.8 M331.10,95.79h-2.8 M331.10,51.04h-2.8 M331.10,6.30h-2.8 M331.10,118.16h-1.5 M331.10,73.41h-1.5 M331.10,28.67h-1.5" stroke="#111" stroke-width="1.1" fill="none"/>
<text x="331.10" y="174.80" text-anchor="middle" class="tl">400</text>
<text x="369.88" y="174.80" text-anchor="middle" class="tl">800</text>
<text x="408.66" y="174.80" text-anchor="middle" class="tl">1200</text>
<text x="447.45" y="174.80" text-anchor="middle" class="tl">1600</text>
<text x="486.23" y="174.80" text-anchor="middle" class="tl">2000</text>
<text x="525.01" y="174.80" text-anchor="middle" class="tl">2400</text>
<text x="325.70" y="143.43" text-anchor="end" class="tl">200</text>
<text x="325.70" y="98.69" text-anchor="end" class="tl">400</text>
<text x="325.70" y="53.94" text-anchor="end" class="tl">600</text>
<text x="325.70" y="9.20" text-anchor="end" class="tl">800</text>
<text x="403.60" y="186.00" class="tt">Wavenumber(cm<tspan dy="-3.6" font-size="6.2">-1</tspan><tspan dy="3.6">)</tspan></text>
<text transform="translate(309.30,87.30) rotate(-90)" text-anchor="middle" class="tt">Intensity</text>
<text transform="translate(334.90,41.50) scale(1,0.93)" class="pl">(b)</text>
<path d="M483.00,14.40H505.60" stroke="#0000ff" stroke-width="1.25"/>
<text x="509.00" y="17.80" class="lg">PEGS1</text>
<text x="459.20" y="124.90" class="rt">I<tspan x="464.40" dy="6.4" font-size="12">D</tspan><tspan x="472.60" dy="-6.4">/I</tspan><tspan x="483.10" dy="6.4" font-size="12">G</tspan><tspan x="493.50" dy="-6.4">=2.76</tspan></text>
<clipPath id="clipc"><rect x="32.80" y="200.70" width="212.70" height="156.50"/></clipPath>
<g clip-path="url(#clipc)" fill="none" stroke-linejoin="round" stroke-linecap="round">
<path d="M42.5,333.7 42.9,335.7 43.2,335.5 43.6,334.9 44.0,335.2 44.4,335.7 44.8,336.5 45.2,335.9 45.6,333.5 45.9,331.1 46.3,332.4 46.7,334.5 47.1,334.9 47.5,335.4 47.9,335.6 48.3,334.7 48.7,333.8 49.0,333.5 49.4,333.2 49.8,333.6 50.2,333.2 50.6,332.0 51.0,332.7 51.4,334.1 51.7,333.9 52.1,332.3 52.5,331.6 52.9,333.0 53.3,333.4 53.7,333.0 54.1,333.9 54.5,333.6 54.8,332.2 55.2,332.0 55.6,332.3 56.0,333.7 56.4,334.9 56.8,333.7 57.2,334.0 57.6,334.7 57.9,332.8 58.3,332.0 58.7,333.2 59.1,333.8 59.5,333.0 59.9,331.8 60.3,330.6 60.6,330.8 61.0,331.2 61.4,331.1 61.8,332.3 62.2,332.9 62.6,331.7 63.0,331.3 63.4,332.4 63.7,332.8 64.1,333.4 64.5,334.0 64.9,332.2 65.3,331.8 65.7,333.2 66.1,333.0 66.4,332.3 66.8,332.4 67.2,333.8 67.6,333.2 68.0,330.7 68.4,331.1 68.8,333.3 69.2,332.9 69.5,331.6 69.9,331.0 70.3,330.6 70.7,331.5 71.1,332.0 71.5,331.4 71.9,330.3 72.2,330.6 72.6,332.3 73.0,332.1 73.4,329.8 73.8,329.0 74.2,329.2 74.6,329.2 75.0,330.2 75.3,331.7 75.7,332.3 76.1,331.3 76.5,330.5 76.9,331.8 77.3,332.1 77.7,331.1 78.0,330.2 78.4,330.5 78.8,332.3 79.2,332.8 79.6,330.7 80.0,328.7 80.4,328.8 80.8,329.8 81.1,330.3 81.5,330.1 81.9,329.8 82.3,329.8 82.7,330.4 83.1,330.4 83.5,329.8 83.8,329.4 84.2,328.2 84.6,326.5 85.0,326.3 85.4,328.6 85.8,331.2 86.2,331.4 86.6,330.1 86.9,330.4 87.3,330.8 87.7,328.6 88.1,328.0 88.5,330.1 88.9,330.7 89.3,329.7 89.6,328.3 90.0,326.3 90.4,325.4 90.8,326.2 91.2,326.3 91.6,325.2 92.0,324.0 92.4,323.5 92.7,324.2 93.1,325.4 93.5,325.5 93.9,324.0 94.3,321.9 94.7,321.5 95.1,322.4 95.4,322.0 95.8,321.1 96.2,321.3 96.6,320.8 97.0,317.9 97.4,315.9 97.8,317.1 98.2,318.4 98.5,318.6 98.9,317.4 99.3,314.8 99.7,313.2 100.1,313.0 100.5,312.5 100.9,311.8 101.3,312.0 101.6,312.4 102.0,311.1 102.4,309.6 102.8,309.3 103.2,308.8 103.6,307.9 104.0,306.1 104.3,304.5 104.7,304.1 105.1,303.1 105.5,301.2 105.9,299.4 106.3,299.5 106.7,300.3 107.1,299.0 107.4,297.6 107.8,296.4 108.2,294.3 108.6,292.9 109.0,292.3 109.4,291.5 109.8,290.5 110.1,290.3 110.5,289.4 110.9,288.0 111.3,286.5 111.7,284.6 112.1,283.0 112.5,281.8 112.9,280.6 113.2,279.1 113.6,277.0 114.0,274.9 114.4,272.9 114.8,270.7 115.2,267.9 115.6,265.3 115.9,263.3 116.3,261.0 116.7,259.4 117.1,257.8 117.5,255.4 117.9,252.5 118.3,248.4 118.7,244.7 119.0,242.1 119.4,238.9 119.8,235.9 120.2,234.0 120.6,232.1 121.0,230.4 121.4,228.5 121.7,226.6 122.1,225.4 122.5,224.5 122.9,223.9 123.3,224.0 123.7,225.0 124.1,226.4 124.5,227.7 124.8,229.6 125.2,231.6 125.6,233.4 126.0,235.7 126.4,238.4 126.8,241.1 127.2,244.0 127.5,246.9 127.9,248.7 128.3,250.1 128.7,251.0 129.1,253.6 129.5,257.1 129.9,259.0 130.3,261.0 130.6,263.0 131.0,264.6 131.4,266.5 131.8,268.2 132.2,269.3 132.6,270.1 133.0,271.1 133.3,271.9 133.7,272.0 134.1,272.4 134.5,273.3 134.9,273.8 135.3,274.0 135.7,274.3 136.1,274.5 136.4,275.2 136.8,276.4 137.2,276.9 137.6,276.1 138.0,275.0 138.4,275.2 138.8,274.9 139.1,273.5 139.5,271.1 139.9,268.5 140.3,267.0 140.7,264.6 141.1,261.3 141.5,258.7 141.9,255.3 142.2,250.8 142.6,247.6 143.0,245.2 143.4,242.3 143.8,238.8 144.2,234.9 144.6,232.0 145.0,230.2 145.3,229.0 145.7,228.9 146.1,229.6 146.5,230.8 146.9,233.1 147.3,236.2 147.7,239.4 148.0,243.1 148.4,248.0 148.8,253.1 149.2,256.8 149.6,261.0 150.0,267.1 150.4,272.9 150.8,277.1 151.1,282.0 151.5,287.9 151.9,291.3 152.3,294.6 152.7,299.1 153.1,302.0 153.5,305.8 153.8,310.1 154.2,313.6 154.6,317.1 155.0,318.1 155.4,318.6 155.8,320.5 156.2,321.7 156.6,323.0 156.9,324.5 157.3,327.1 157.7,329.8 158.1,329.6 158.5,329.2 158.9,330.7 159.3,331.1 159.6,330.3 160.0,331.3 160.4,332.5 160.8,331.4 161.2,330.2 161.6,330.1 162.0,329.2 162.4,328.7 162.7,330.5 163.1,332.6 163.5,332.7 163.9,331.1 164.3,329.8 164.7,329.9 165.1,330.6 165.4,331.3 165.8,331.6 166.2,332.2 166.6,333.1 167.0,334.3 167.4,334.8 167.8,334.3 168.2,334.5 168.5,334.1 168.9,333.0 169.3,331.6 169.7,330.2 170.1,331.6 170.5,333.7 170.9,333.5 171.2,333.9 171.6,334.4 172.0,334.1 172.4,336.3 172.8,337.6 173.2,335.6 173.6,334.1 174.0,333.8 174.3,335.2 174.7,335.4 175.1,334.3 175.5,335.0 175.9,334.4 176.3,333.2 176.7,334.1 177.0,334.9 177.4,334.5 177.8,334.5 178.2,335.1 178.6,334.5 179.0,333.0 179.4,332.6 179.8,334.7 180.1,335.8 180.5,335.0 180.9,335.0 181.3,335.0 181.7,334.2 182.1,334.2 182.5,335.2 182.9,336.8 183.2,338.2 183.6,336.5 184.0,334.4 184.4,335.4 184.8,336.8 185.2,336.4 185.6,335.1 185.9,335.2 186.3,335.9 186.7,334.9 187.1,334.1 187.5,334.5 187.9,334.5 188.3,333.5 188.7,333.9 189.0,335.3 189.4,335.8 189.8,335.2 190.2,334.5 190.6,334.4 191.0,333.9 191.4,333.3 191.7,333.1 192.1,333.6 192.5,335.7 192.9,336.9 193.3,335.4 193.7,334.1 194.1,334.3 194.5,334.7 194.8,335.5 195.2,336.2 195.6,335.6 196.0,334.1 196.4,334.5 196.8,336.1 197.2,336.6 197.5,335.0 197.9,333.2 198.3,334.0 198.7,334.5 199.1,332.9 199.5,332.0 199.9,332.5 200.3,332.7 200.6,332.7 201.0,332.9 201.4,333.7 201.8,334.0 202.2,333.1 202.6,332.3 203.0,333.1 203.3,334.8 203.7,333.9 204.1,332.9 204.5,333.6 204.9,333.3 205.3,332.6 205.7,333.2 206.1,334.1 206.4,333.7 206.8,332.1 207.2,331.8 207.6,332.8 208.0,333.3 208.4,332.8 208.8,332.9 209.1,334.6 209.5,335.2 209.9,334.4 210.3,334.6 210.7,334.3 211.1,333.1 211.5,333.1 211.9,333.5 212.2,333.7 212.6,334.1 213.0,334.1 213.4,334.8 213.8,334.6 214.2,333.0 214.6,333.2 214.9,333.9 215.3,333.3 215.7,332.4 216.1,332.4 216.5,332.0 216.9,331.8 217.3,332.8 217.7,333.4 218.0,332.5 218.4,330.8 218.8,330.0 219.2,330.4 219.6,331.6 220.0,331.8 220.4,331.4 220.7,331.5 221.1,330.9 221.5,331.1 221.9,332.2 222.3,332.2 222.7,331.0 223.1,328.7 223.5,328.2 223.8,330.3 224.2,332.7 224.6,333.6 225.0,332.3 225.4,331.8 225.8,332.0 226.2,331.8 226.6,332.5 226.9,332.1 227.3,331.7 227.7,331.8 228.1,330.2 228.5,330.2 228.9,332.4 229.3,332.5 229.6,330.6 230.0,330.7 230.4,331.6 230.8,331.0 231.2,330.2 231.6,329.5 232.0,328.6 232.4,327.5 232.7,326.1 233.1,325.8 233.5,326.1 233.9,325.6 234.3,325.0 234.7,326.1 235.1,327.0 235.4,326.0 235.8,325.6" stroke="#0000ff" stroke-width="1.6"/>
<path d="M131.7,260.6 132.4,263.9 133.0,267.3 133.7,270.7 134.3,274.2 134.9,277.6 135.6,281.1 136.2,284.5 136.9,287.8 137.5,291.0 138.2,294.2 138.8,297.2 139.5,300.1 140.1,302.9 140.8,305.5 141.4,307.9 142.1,310.2 142.7,312.3 143.4,314.3 144.0,316.1 144.6,317.8 145.3,319.4 145.9,320.7 146.6,322.0 147.2,323.1 147.9,324.2 148.5,325.1 149.2,325.9 149.8,326.6 150.5,327.2 151.1,327.7 151.8,328.2 152.4,328.6 153.1,329.0 153.7,329.3 154.3,329.6 155.0,329.8 155.6,330.0 156.3,330.2 156.9,330.3 157.6,330.4 158.2,330.5 158.9,330.6 159.5,330.7 160.2,330.7 160.8,330.8 161.5,330.8" stroke="#00ff00" stroke-width="1.2"/>
<path d="M86.4,330.9 87.1,330.9 87.7,330.9 88.4,330.9 89.0,330.9 89.7,330.9 90.3,330.9 91.0,330.9 91.6,330.9 92.3,330.9 92.9,330.9 93.6,330.9 94.2,330.9 94.9,330.9 95.5,330.9 96.1,330.9 96.8,330.9 97.4,330.9 98.1,330.9 98.7,330.9 99.4,330.9 100.0,330.9 100.7,330.9 101.3,330.9 102.0,330.9 102.6,330.9 103.3,330.9 103.9,330.9 104.6,330.9 105.2,330.9 105.8,330.9 106.5,330.9 107.1,330.9 107.8,330.9 108.4,330.9 109.1,330.9 109.7,330.9 110.4,330.9 111.0,330.9 111.7,330.9 112.3,330.9 113.0,330.9 113.6,330.9 114.3,330.9 114.9,330.9 115.5,330.9 116.2,330.9 116.8,330.9 117.5,330.9 118.1,330.9 118.8,330.9 119.4,330.9 120.1,330.9 120.7,330.9 121.4,330.9 122.0,330.9 122.7,330.9 123.3,330.9 124.0,330.9 124.6,330.9 125.2,330.9 125.9,330.9 126.5,330.9 127.2,330.9 127.8,330.9 128.5,330.9 129.1,330.9 129.8,330.9 130.4,330.8 131.1,330.8 131.7,330.7 132.4,330.5 133.0,330.2 133.7,329.7 134.3,329.1 134.9,328.1 135.6,326.8 136.2,324.9 136.9,322.4 137.5,319.2 138.2,315.2 138.8,310.3 139.5,304.5 140.1,297.8 140.8,290.4 141.4,282.5 142.1,274.4 142.7,266.6 143.4,259.3 144.0,253.1 144.6,248.3 145.3,245.3 145.9,244.2 146.6,245.1 147.2,247.6 147.9,251.7 148.5,257.0 149.2,263.4 149.8,270.4 150.5,277.8 151.1,285.2 151.8,292.4 152.4,299.0 153.1,305.1 153.7,310.4 154.3,315.0 155.0,318.7 155.6,321.8 156.3,324.2 156.9,326.1 157.6,327.6 158.2,328.6 158.9,329.4 159.5,329.9" stroke="#00ff00" stroke-width="1.2"/>
<path d="M42.5,330.9 43.1,330.9 43.8,330.9 44.4,330.9 45.1,330.9 45.7,330.9 46.3,330.9 47.0,330.9 47.6,330.9 48.3,330.9 48.9,330.9 49.6,330.9 50.2,330.9 50.9,330.9 51.5,330.9 52.2,330.9 52.8,330.9 53.5,330.9 54.1,330.9 54.8,330.9 55.4,330.9 56.0,330.9 56.7,330.9 57.3,330.9 58.0,330.9 58.6,330.9 59.3,330.9 59.9,330.9 60.6,330.9 61.2,330.9 61.9,330.9 62.5,330.9 63.2,330.9 63.8,330.9 64.5,330.9 65.1,330.9 65.7,330.9 66.4,330.9 67.0,330.9 67.7,330.9 68.3,330.9 69.0,330.9 69.6,330.9 70.3,330.9 70.9,330.9 71.6,330.9 72.2,330.9 72.9,330.9 73.5,330.9 74.2,330.9 74.8,330.9 75.4,330.9 76.1,330.9 76.7,330.9 77.4,330.9 78.0,330.9 78.7,330.9 79.3,330.9 80.0,330.9 80.6,330.9 81.3,330.9 81.9,330.9 82.6,330.9 83.2,330.8 83.9,330.8 84.5,330.8 85.2,330.7 85.8,330.7 86.4,330.6 87.1,330.6 87.7,330.5 88.4,330.4 89.0,330.3 89.7,330.1 90.3,330.0 91.0,329.8 91.6,329.6 92.3,329.3 92.9,329.0 93.6,328.7 94.2,328.3 94.9,327.9 95.5,327.4 96.1,326.8 96.8,326.2 97.4,325.5 98.1,324.7 98.7,323.8 99.4,322.8 100.0,321.7 100.7,320.5 101.3,319.2 102.0,317.8 102.6,316.2 103.3,314.5 103.9,312.6 104.6,310.6 105.2,308.5 105.8,306.3 106.5,303.9 107.1,301.3 107.8,298.7 108.4,295.9 109.1,293.0 109.7,290.0 110.4,287.0 111.0,283.8 111.7,280.6 112.3,277.4 113.0,274.1 113.6,270.9 114.3,267.7 114.9,264.5 115.5,261.4 116.2,258.4 116.8,255.5 117.5,252.8 118.1,250.3 118.8,247.9 119.4,245.8 120.1,243.9 120.7,242.3 121.4,240.9 122.0,239.9 122.7,239.1 123.3,238.6 124.0,238.5 124.6,238.6 125.2,239.1 125.9,240.0 126.5,241.2 127.2,242.7 127.8,244.5 128.5,246.7 129.1,249.0 129.8,251.6 130.4,254.4 131.1,257.3 131.7,260.3 132.4,263.4 133.0,266.5 133.7,269.5 134.3,272.3 134.9,274.8 135.6,276.9 136.2,278.4 136.9,279.3 137.5,279.3 138.2,278.4 138.8,276.6 139.5,273.6 140.1,269.7 140.8,264.9 141.4,259.5 142.1,253.7 142.7,248.0 143.4,242.7 144.0,238.3 144.6,235.2 145.3,233.7 145.9,234.1 146.6,236.1 147.2,239.8 147.9,244.9 148.5,251.1 149.2,258.3 149.8,266.0 150.5,274.1 151.1,282.0 151.8,289.6 152.4,296.7 153.1,303.1 153.7,308.8 154.3,313.6 155.0,317.6 155.6,320.9 156.3,323.5 156.9,325.5 157.6,327.0 158.2,328.2 158.9,329.0 159.5,329.6 160.2,330.0 160.8,330.3 161.5,330.5 162.1,330.7 162.8,330.7 163.4,330.8 164.0,330.8 164.7,330.9 165.3,330.9 166.0,330.9 166.6,330.9 167.3,330.9 167.9,330.9 168.6,330.9 169.2,330.9 169.9,330.9 170.5,330.9 171.2,330.9 171.8,330.9 172.5,330.9 173.1,330.9 173.7,330.9 174.4,330.9 175.0,330.9 175.7,330.9 176.3,330.9 177.0,330.9 177.6,330.9 178.3,330.9 178.9,330.9 179.6,330.9 180.2,330.9 180.9,330.9 181.5,330.9 182.2,330.9 182.8,330.9 183.4,330.9 184.1,330.9 184.7,330.9 185.4,330.9 186.0,330.9 186.7,330.9 187.3,330.9 188.0,330.9 188.6,330.9 189.3,330.9 189.9,330.9 190.6,330.9 191.2,330.9 191.9,330.9 192.5,330.9 193.1,330.9 193.8,330.9 194.4,330.9 195.1,330.9 195.7,330.9 196.4,330.9 197.0,330.9 197.7,330.9 198.3,330.9 199.0,330.9 199.6,330.9 200.3,330.9 200.9,330.9 201.6,330.9 202.2,330.9 202.9,330.9 203.5,330.9 204.1,330.9 204.8,330.9 205.4,330.9 206.1,330.9 206.7,330.9 207.4,330.9 208.0,330.9 208.7,330.9 209.3,330.9 210.0,330.9 210.6,330.9 211.3,330.9 211.9,330.9 212.6,330.9 213.2,330.9 213.8,330.9 214.5,330.9 215.1,330.9 215.8,330.9 216.4,330.9 217.1,330.9 217.7,330.9 218.4,330.9 219.0,330.9 219.7,330.9 220.3,330.9 221.0,330.9 221.6,330.9 222.3,330.9 222.9,330.9 223.5,330.9 224.2,330.9 224.8,330.9 225.5,330.9 226.1,330.9 226.8,330.9 227.4,330.9 228.1,330.9 228.7,330.9 229.4,330.9 230.0,330.9 230.7,330.9 231.3,330.9 232.0,330.9 232.6,330.9 233.2,330.9 233.9,330.9 234.5,330.9 235.2,330.9 235.8,330.9" stroke="#ff0000" stroke-width="1.4"/>
</g>
<rect x="32.90" y="200.70" width="212.60" height="156.50" fill="none" stroke="#111" stroke-width="1.3"/>
<path d="M32.80,357.20v2.2 M71.47,357.20v2.2 M110.15,357.20v2.2 M148.82,357.20v2.2 M187.49,357.20v2.2 M226.16,357.20v2.2 M52.14,357.20v1.5 M90.81,357.20v1.5 M129.48,357.20v1.5 M168.15,357.20v1.5 M206.83,357.20v1.5 M245.50,357.20v1.5" stroke="#111" stroke-width="1.1" fill="none"/>
<text x="32.80" y="368.60" text-anchor="middle" class="tl">400</text>
<text x="71.47" y="368.60" text-anchor="middle" class="tl">800</text>
<text x="110.15" y="368.60" text-anchor="middle" class="tl">1200</text>
<text x="148.82" y="368.60" text-anchor="middle" class="tl">1600</text>
<text x="187.49" y="368.60" text-anchor="middle" class="tl">2000</text>
<text x="226.16" y="368.60" text-anchor="middle" class="tl">2400</text>
<text x="28.90" y="360.10" text-anchor="end" class="tl">100</text>
<text x="28.90" y="325.32" text-anchor="end" class="tl">200</text>
<text x="28.90" y="290.54" text-anchor="end" class="tl">300</text>
<text x="28.90" y="255.77" text-anchor="end" class="tl">400</text>
<text x="28.90" y="220.99" text-anchor="end" class="tl">500</text>
<text x="102.00" y="379.40" class="tt">Wavenumber(cm<tspan dy="-3.6" font-size="6.2">-1</tspan><tspan dy="3.6">)</tspan></text>
<text transform="translate(11.50,286.00) rotate(-90)" text-anchor="middle" class="tt">Intensity</text>
<text transform="translate(37.90,234.20) scale(1,0.93)" class="pl">(c)</text>
<path d="M183.30,209.90H206.40" stroke="#0000ff" stroke-width="1.25"/>
<text x="209.10" y="213.30" class="lg">PEGS2</text>
<text x="165.20" y="307.30" class="rt">I<tspan x="170.40" dy="6.4" font-size="12">D</tspan><tspan x="178.60" dy="-6.4">/I</tspan><tspan x="189.10" dy="6.4" font-size="12">G</tspan><tspan x="199.50" dy="-6.4">=2.51</tspan></text>
<clipPath id="clipd"><rect x="331.80" y="200.40" width="212.60" height="156.60"/></clipPath>
<g clip-path="url(#clipd)" fill="none" stroke-linejoin="round" stroke-linecap="round">
<path d="M341.5,328.0 341.9,326.8 342.2,325.0 342.6,326.4 343.0,328.6 343.4,328.4 343.8,327.7 344.2,328.2 344.6,328.6 344.9,327.5 345.3,325.7 345.7,324.9 346.1,325.4 346.5,327.0 346.9,327.0 347.3,326.3 347.6,327.1 348.0,326.9 348.4,327.1 348.8,328.4 349.2,328.4 349.6,327.7 350.0,326.8 350.4,325.8 350.7,326.1 351.1,327.9 351.5,328.2 351.9,327.2 352.3,327.5 352.7,328.8 353.1,328.1 353.4,327.4 353.8,327.6 354.2,326.2 354.6,325.2 355.0,324.7 355.4,325.4 355.8,327.5 356.2,328.0 356.5,326.7 356.9,325.2 357.3,325.4 357.7,327.1 358.1,328.0 358.5,328.0 358.9,327.7 359.2,327.1 359.6,325.5 360.0,324.4 360.4,326.0 360.8,326.8 361.2,326.6 361.6,327.4 362.0,327.4 362.3,326.2 362.7,326.3 363.1,326.7 363.5,325.8 363.9,325.9 364.3,325.9 364.7,325.0 365.0,324.6 365.4,324.7 365.8,325.6 366.2,326.2 366.6,326.6 367.0,326.7 367.4,326.0 367.7,327.3 368.1,327.1 368.5,324.9 368.9,326.1 369.3,326.8 369.7,325.2 370.1,325.1 370.5,325.9 370.8,326.9 371.2,328.1 371.6,329.6 372.0,330.1 372.4,328.6 372.8,326.6 373.2,324.2 373.5,323.8 373.9,325.6 374.3,326.2 374.7,326.6 375.1,327.7 375.5,329.0 375.9,329.3 376.3,328.8 376.6,328.1 377.0,327.4 377.4,326.4 377.8,325.2 378.2,325.3 378.6,325.3 379.0,324.5 379.3,324.9 379.7,325.9 380.1,326.3 380.5,325.6 380.9,324.3 381.3,324.2 381.7,324.5 382.1,324.9 382.4,325.5 382.8,326.1 383.2,325.9 383.6,324.5 384.0,324.1 384.4,324.3 384.8,323.9 385.1,324.3 385.5,323.8 385.9,322.7 386.3,323.3 386.7,324.0 387.1,323.9 387.5,323.3 387.8,321.4 388.2,321.0 388.6,320.1 389.0,317.0 389.4,316.6 389.8,318.2 390.2,318.0 390.6,316.3 390.9,315.8 391.3,316.8 391.7,316.3 392.1,314.9 392.5,314.6 392.9,314.1 393.3,314.5 393.6,315.8 394.0,317.0 394.4,317.0 394.8,314.0 395.2,311.7 395.6,311.8 396.0,310.2 396.4,309.3 396.7,310.2 397.1,310.3 397.5,310.3 397.9,310.6 398.3,309.9 398.7,308.5 399.1,307.1 399.4,307.0 399.8,307.2 400.2,306.7 400.6,306.8 401.0,306.1 401.4,304.8 401.8,304.3 402.2,303.7 402.5,303.0 402.9,303.0 403.3,302.4 403.7,300.4 404.1,298.5 404.5,296.9 404.9,295.1 405.2,296.6 405.6,298.6 406.0,295.2 406.4,291.2 406.8,290.9 407.2,291.4 407.6,289.7 407.9,286.5 408.3,284.6 408.7,284.1 409.1,282.8 409.5,281.1 409.9,280.9 410.3,280.8 410.7,278.9 411.0,277.4 411.4,276.0 411.8,274.3 412.2,273.4 412.6,271.9 413.0,269.3 413.4,267.0 413.7,265.5 414.1,263.7 414.5,261.7 414.9,259.9 415.3,257.4 415.7,255.1 416.1,253.6 416.5,252.0 416.8,249.0 417.2,244.7 417.6,241.8 418.0,240.7 418.4,240.0 418.8,238.2 419.2,234.4 419.5,232.3 419.9,231.5 420.3,229.9 420.7,228.7 421.1,226.5 421.5,224.6 421.9,224.1 422.3,223.3 422.6,222.3 423.0,222.2 423.4,222.7 423.8,223.6 424.2,224.8 424.6,226.0 425.0,227.9 425.3,230.3 425.7,232.3 426.1,234.0 426.5,234.9 426.9,237.0 427.3,240.9 427.7,244.9 428.0,247.8 428.4,249.5 428.8,250.9 429.2,252.6 429.6,254.3 430.0,255.8 430.4,257.4 430.8,259.1 431.1,260.1 431.5,260.2 431.9,260.8 432.3,261.5 432.7,261.7 433.1,262.3 433.5,262.9 433.8,262.7 434.2,261.7 434.6,261.2 435.0,260.9 435.4,261.0 435.8,261.3 436.2,261.3 436.6,261.4 436.9,261.8 437.3,262.2 437.7,261.7 438.1,260.5 438.5,258.8 438.9,257.4 439.3,256.5 439.6,255.1 440.0,253.4 440.4,250.7 440.8,246.8 441.2,243.0 441.6,240.9 442.0,239.0 442.4,235.7 442.7,233.0 443.1,231.1 443.5,229.3 443.9,227.1 444.3,225.3 444.7,225.3 445.1,226.3 445.4,228.2 445.8,230.5 446.2,233.0 446.6,236.1 447.0,240.0 447.4,244.6 447.8,248.4 448.2,252.7 448.5,258.4 448.9,263.7 449.3,269.0 449.7,273.5 450.1,276.9 450.5,281.3 450.9,287.3 451.2,291.5 451.6,295.2 452.0,300.3 452.4,304.1 452.8,307.5 453.2,309.8 453.6,310.6 453.9,311.0 454.3,311.5 454.7,313.5 455.1,316.6 455.5,319.7 455.9,321.5 456.3,323.4 456.7,324.4 457.0,323.3 457.4,324.5 457.8,326.6 458.2,325.9 458.6,324.5 459.0,324.8 459.4,326.6 459.7,327.4 460.1,328.5 460.5,329.6 460.9,329.4 461.3,330.2 461.7,331.0 462.1,330.8 462.5,331.7 462.8,332.3 463.2,333.0 463.6,333.5 464.0,332.6 464.4,332.2 464.8,333.1 465.2,332.1 465.5,330.9 465.9,332.2 466.3,332.5 466.7,332.1 467.1,332.7 467.5,332.9 467.9,332.9 468.3,332.5 468.6,333.1 469.0,333.4 469.4,332.3 469.8,332.8 470.2,334.4 470.6,335.0 471.0,334.8 471.3,334.0 471.7,333.1 472.1,333.3 472.5,335.0 472.9,334.4 473.3,332.7 473.7,332.9 474.0,332.6 474.4,331.9 474.8,332.6 475.2,333.5 475.6,333.0 476.0,331.7 476.4,332.5 476.8,334.2 477.1,334.8 477.5,334.8 477.9,333.5 478.3,333.2 478.7,334.6 479.1,336.1 479.5,336.4 479.8,334.9 480.2,334.6 480.6,334.8 481.0,334.5 481.4,335.5 481.8,336.3 482.2,336.8 482.6,335.6 482.9,333.2 483.3,334.1 483.7,335.1 484.1,336.2 484.5,338.3 484.9,337.1 485.3,335.9 485.6,336.2 486.0,336.6 486.4,337.5 486.8,336.2 487.2,335.9 487.6,338.5 488.0,338.7 488.4,336.8 488.7,336.4 489.1,336.5 489.5,335.9 489.9,336.4 490.3,337.6 490.7,337.9 491.1,339.0 491.4,340.8 491.8,339.8 492.2,336.8 492.6,335.0 493.0,335.3 493.4,337.4 493.8,337.8 494.1,336.7 494.5,336.5 494.9,336.3 495.3,336.8 495.7,338.9 496.1,340.5 496.5,338.4 496.9,335.1 497.2,334.3 497.6,335.3 498.0,336.9 498.4,338.0 498.8,337.8 499.2,336.9 499.6,336.4 499.9,335.3 500.3,335.1 500.7,336.4 501.1,337.3 501.5,337.4 501.9,336.7 502.3,336.8 502.7,337.1 503.0,335.8 503.4,334.9 503.8,336.3 504.2,338.1 504.6,338.3 505.0,337.7 505.4,338.0 505.7,337.9 506.1,336.8 506.5,336.5 506.9,336.9 507.3,335.5 507.7,335.3 508.1,336.8 508.5,334.9 508.8,334.0 509.2,336.0 509.6,337.3 510.0,337.9 510.4,337.4 510.8,336.9 511.2,337.2 511.5,338.2 511.9,338.6 512.3,338.3 512.7,338.4 513.1,338.2 513.5,338.3 513.9,338.6 514.2,337.7 514.6,338.1 515.0,339.6 515.4,338.9 515.8,338.8 516.2,340.0 516.6,340.2 517.0,339.8 517.3,338.8 517.7,338.5 518.1,338.5 518.5,337.9 518.9,337.9 519.3,337.1 519.7,337.1 520.0,338.3 520.4,336.4 520.8,335.4 521.2,337.2 521.6,337.9 522.0,338.1 522.4,338.4 522.8,338.8 523.1,338.7 523.5,337.4 523.9,337.1 524.3,337.2 524.7,336.2 525.1,336.1 525.5,337.6 525.8,338.0 526.2,336.1 526.6,337.3 527.0,340.9 527.4,341.4 527.8,339.2 528.2,337.1 528.6,336.8 528.9,338.1 529.3,338.1 529.7,338.4 530.1,339.3 530.5,338.6 530.9,337.8 531.3,337.5 531.6,337.7 532.0,338.6 532.4,338.0 532.8,336.3 533.2,334.9 533.6,333.6 534.0,332.1 534.3,332.5 534.7,332.7" stroke="#0000ff" stroke-width="1.6"/>
<path d="M430.7,254.0 431.3,256.7 432.0,259.5 432.6,262.3 433.3,265.2 433.9,268.2 434.5,271.1 435.2,274.1 435.8,277.0 436.5,279.9 437.1,282.8 437.8,285.6 438.4,288.3 439.1,290.9 439.7,293.5 440.4,296.0 441.0,298.3 441.7,300.6 442.3,302.8 442.9,304.8 443.6,306.7 444.2,308.6 444.9,310.3 445.5,311.8 446.2,313.3 446.8,314.7 447.5,316.0 448.1,317.1 448.8,318.2 449.4,319.2 450.1,320.1 450.7,320.9 451.4,321.6 452.0,322.3 452.6,322.9 453.3,323.4 453.9,323.9 454.6,324.3 455.2,324.7 455.9,325.0 456.5,325.3 457.2,325.6 457.8,325.8 458.5,326.0 459.1,326.2 459.8,326.3" stroke="#00ff00" stroke-width="1.2"/>
<path d="M384.8,327.2 385.4,327.2 386.1,327.2 386.7,327.2 387.4,327.2 388.0,327.2 388.7,327.2 389.3,327.2 389.9,327.2 390.6,327.2 391.2,327.2 391.9,327.2 392.5,327.2 393.2,327.2 393.8,327.2 394.5,327.2 395.1,327.2 395.8,327.2 396.4,327.2 397.1,327.2 397.7,327.2 398.3,327.2 399.0,327.2 399.6,327.2 400.3,327.2 400.9,327.2 401.6,327.2 402.2,327.2 402.9,327.2 403.5,327.2 404.2,327.2 404.8,327.2 405.5,327.2 406.1,327.2 406.7,327.2 407.4,327.2 408.0,327.2 408.7,327.2 409.3,327.2 410.0,327.2 410.6,327.2 411.3,327.2 411.9,327.2 412.6,327.2 413.2,327.2 413.9,327.2 414.5,327.2 415.2,327.2 415.8,327.2 416.4,327.2 417.1,327.2 417.7,327.2 418.4,327.2 419.0,327.2 419.7,327.2 420.3,327.2 421.0,327.2 421.6,327.2 422.3,327.2 422.9,327.2 423.6,327.2 424.2,327.2 424.8,327.2 425.5,327.2 426.1,327.2 426.8,327.2 427.4,327.2 428.1,327.2 428.7,327.1 429.4,327.1 430.0,327.1 430.7,327.0 431.3,326.8 432.0,326.5 432.6,326.2 433.3,325.6 433.9,324.8 434.5,323.6 435.2,322.0 435.8,319.8 436.5,317.0 437.1,313.4 437.8,309.0 438.4,303.7 439.1,297.6 439.7,290.8 440.4,283.6 441.0,276.0 441.7,268.6 442.3,261.7 442.9,255.6 443.6,250.9 444.2,247.7 444.9,246.3 445.5,246.8 446.2,249.0 446.8,252.8 447.5,258.0 448.1,264.1 448.8,271.0 449.4,278.2 450.1,285.4 450.7,292.3 451.4,298.7 452.0,304.4 452.6,309.4 453.3,313.6 453.9,317.0 454.6,319.7 455.2,321.8 455.9,323.4 456.5,324.6 457.2,325.5 457.8,326.1 458.5,326.5 459.1,326.7 459.8,326.9 460.4,327.0 461.0,327.1 461.7,327.1 462.3,327.2 463.0,327.2 463.6,327.2" stroke="#00ff00" stroke-width="1.2"/>
<path d="M341.5,327.2 342.1,327.2 342.8,327.2 343.4,327.2 344.0,327.2 344.7,327.2 345.3,327.2 346.0,327.2 346.6,327.2 347.3,327.2 347.9,327.2 348.6,327.2 349.2,327.2 349.9,327.2 350.5,327.2 351.2,327.2 351.8,327.2 352.5,327.2 353.1,327.2 353.7,327.2 354.4,327.2 355.0,327.2 355.7,327.2 356.3,327.2 357.0,327.2 357.6,327.2 358.3,327.2 358.9,327.2 359.6,327.2 360.2,327.2 360.9,327.2 361.5,327.2 362.1,327.2 362.8,327.2 363.4,327.2 364.1,327.2 364.7,327.2 365.4,327.2 366.0,327.2 366.7,327.2 367.3,327.2 368.0,327.2 368.6,327.2 369.3,327.2 369.9,327.2 370.6,327.2 371.2,327.2 371.8,327.2 372.5,327.2 373.1,327.2 373.8,327.2 374.4,327.2 375.1,327.2 375.7,327.2 376.4,327.2 377.0,327.2 377.7,327.2 378.3,327.2 379.0,327.1 379.6,327.1 380.2,327.1 380.9,327.1 381.5,327.1 382.2,327.0 382.8,327.0 383.5,327.0 384.1,326.9 384.8,326.9 385.4,326.8 386.1,326.7 386.7,326.6 387.4,326.5 388.0,326.3 388.7,326.2 389.3,326.0 389.9,325.8 390.6,325.5 391.2,325.2 391.9,324.9 392.5,324.5 393.2,324.0 393.8,323.5 394.5,323.0 395.1,322.3 395.8,321.6 396.4,320.8 397.1,319.9 397.7,318.9 398.3,317.8 399.0,316.5 399.6,315.2 400.3,313.7 400.9,312.2 401.6,310.4 402.2,308.6 402.9,306.6 403.5,304.5 404.2,302.2 404.8,299.8 405.5,297.3 406.1,294.6 406.7,291.8 407.4,288.9 408.0,286.0 408.7,282.9 409.3,279.8 410.0,276.6 410.6,273.4 411.3,270.1 411.9,266.9 412.6,263.7 413.2,260.6 413.9,257.5 414.5,254.5 415.2,251.7 415.8,249.0 416.4,246.5 417.1,244.2 417.7,242.0 418.4,240.2 419.0,238.6 419.7,237.2 420.3,236.2 421.0,235.4 421.6,234.9 422.3,234.8 422.9,234.9 423.6,235.3 424.2,235.9 424.8,236.8 425.5,237.9 426.1,239.2 426.8,240.8 427.4,242.6 428.1,244.5 428.7,246.6 429.4,248.9 430.0,251.3 430.7,253.8 431.3,256.3 432.0,258.8 432.6,261.3 433.3,263.6 433.9,265.7 434.5,267.5 435.2,268.8 435.8,269.6 436.5,269.7 437.1,268.9 437.8,267.3 438.4,264.8 439.1,261.4 439.7,257.2 440.4,252.3 441.0,247.2 441.7,242.0 442.3,237.2 442.9,233.2 443.6,230.4 444.2,229.0 444.9,229.4 445.5,231.4 446.2,235.1 446.8,240.3 447.5,246.7 448.1,254.1 448.8,262.0 449.4,270.2 450.1,278.3 450.7,286.0 451.4,293.1 452.0,299.5 452.6,305.1 453.3,309.8 453.9,313.7 454.6,316.8 455.2,319.3 455.9,321.3 456.5,322.7 457.2,323.8 457.8,324.7 458.5,325.3 459.1,325.7 459.8,326.0 460.4,326.3 461.0,326.5 461.7,326.6 462.3,326.7 463.0,326.8 463.6,326.9 464.3,326.9 464.9,327.0 465.6,327.0 466.2,327.0 466.9,327.1 467.5,327.1 468.2,327.1 468.8,327.1 469.5,327.1 470.1,327.1 470.7,327.2 471.4,327.2 472.0,327.2 472.7,327.2 473.3,327.2 474.0,327.2 474.6,327.2 475.3,327.2 475.9,327.2 476.6,327.2 477.2,327.2 477.9,327.2 478.5,327.2 479.1,327.2 479.8,327.2 480.4,327.2 481.1,327.2 481.7,327.2 482.4,327.2 483.0,327.2 483.7,327.2 484.3,327.2 485.0,327.2 485.6,327.2 486.3,327.2 486.9,327.2 487.5,327.2 488.2,327.2 488.8,327.2 489.5,327.2 490.1,327.2 490.8,327.2 491.4,327.2 492.1,327.2 492.7,327.2 493.4,327.2 494.0,327.2 494.7,327.2 495.3,327.2 496.0,327.2 496.6,327.2 497.2,327.2 497.9,327.2 498.5,327.2 499.2,327.2 499.8,327.2 500.5,327.2 501.1,327.2 501.8,327.2 502.4,327.2 503.1,327.2 503.7,327.2 504.4,327.2 505.0,327.2 505.6,327.2 506.3,327.2 506.9,327.2 507.6,327.2 508.2,327.2 508.9,327.2 509.5,327.2 510.2,327.2 510.8,327.2 511.5,327.2 512.1,327.2 512.8,327.2 513.4,327.2 514.1,327.2 514.7,327.2 515.3,327.2 516.0,327.2 516.6,327.2 517.3,327.2 517.9,327.2 518.6,327.2 519.2,327.2 519.9,327.2 520.5,327.2 521.2,327.2 521.8,327.2 522.5,327.2 523.1,327.2 523.7,327.2 524.4,327.2 525.0,327.2 525.7,327.2 526.3,327.2 527.0,327.2 527.6,327.2 528.3,327.2 528.9,327.2 529.6,327.2 530.2,327.2 530.9,327.2 531.5,327.2 532.2,327.2 532.8,327.2 533.4,327.2 534.1,327.2 534.7,327.2" stroke="#ff0000" stroke-width="1.4"/>
</g>
<rect x="331.90" y="200.40" width="212.50" height="156.60" fill="none" stroke="#111" stroke-width="1.3"/>
<path d="M341.46,357.00v2.2 M389.78,357.00v2.2 M438.10,357.00v2.2 M486.42,357.00v2.2 M534.74,357.00v2.2 M365.62,357.00v1.5 M413.94,357.00v1.5 M462.26,357.00v1.5 M510.58,357.00v1.5" stroke="#111" stroke-width="1.1" fill="none"/>
<text x="341.46" y="369.20" text-anchor="middle" class="tl">500</text>
<text x="389.78" y="369.20" text-anchor="middle" class="tl">1000</text>
<text x="438.10" y="369.20" text-anchor="middle" class="tl">1500</text>
<text x="486.42" y="369.20" text-anchor="middle" class="tl">2000</text>
<text x="534.74" y="369.20" text-anchor="middle" class="tl">2500</text>
<text x="328.40" y="359.90" text-anchor="end" class="tl">100</text>
<text x="328.40" y="320.75" text-anchor="end" class="tl">200</text>
<text x="328.40" y="281.60" text-anchor="end" class="tl">300</text>
<text x="328.40" y="242.45" text-anchor="end" class="tl">400</text>
<text x="328.40" y="203.30" text-anchor="end" class="tl">500</text>
<text x="400.00" y="380.00" class="tt">Wavenumber(cm<tspan dy="-3.6" font-size="6.2">-1</tspan><tspan dy="3.6">)</tspan></text>
<text transform="translate(309.80,280.20) rotate(-90)" text-anchor="middle" class="tt">Intensity</text>
<text transform="translate(334.90,234.40) scale(1,0.93)" class="pl">(d)</text>
<path d="M483.00,209.40H505.60" stroke="#0000ff" stroke-width="1.25"/>
<text x="509.00" y="212.80" class="lg">PEGS3</text>
<text x="462.00" y="307.30" class="rt">I<tspan x="467.20" dy="6.4" font-size="12">D</tspan><tspan x="475.40" dy="-6.4">/I</tspan><tspan x="485.90" dy="6.4" font-size="12">G</tspan><tspan x="496.30" dy="-6.4">=1.86</tspan></text>
<clipPath id="clipe"><rect x="32.60" y="398.60" width="212.50" height="156.80"/></clipPath>
<g clip-path="url(#clipe)" fill="none" stroke-linejoin="round" stroke-linecap="round">
<path d="M32.6,535.6 33.0,535.7 33.4,534.6 33.8,533.2 34.1,532.4 34.5,532.6 34.9,533.1 35.3,532.6 35.7,531.0 36.1,530.1 36.5,531.3 36.9,533.0 37.2,532.8 37.6,531.8 38.0,533.1 38.4,534.8 38.8,535.2 39.2,535.6 39.6,535.9 39.9,536.1 40.3,536.2 40.7,535.9 41.1,536.3 41.5,536.7 41.9,536.0 42.3,536.3 42.6,537.4 43.0,537.5 43.4,537.3 43.8,537.3 44.2,537.4 44.6,536.9 45.0,536.6 45.4,537.0 45.7,537.4 46.1,537.5 46.5,537.8 46.9,537.7 47.3,537.1 47.7,536.7 48.1,535.8 48.4,536.2 48.8,537.5 49.2,537.3 49.6,537.1 50.0,536.8 50.4,537.1 50.8,537.9 51.1,537.4 51.5,536.4 51.9,536.3 52.3,536.7 52.7,536.7 53.1,537.1 53.5,537.3 53.9,536.6 54.2,535.5 54.6,534.7 55.0,534.3 55.4,534.8 55.8,535.3 56.2,535.8 56.6,536.6 56.9,536.2 57.3,535.7 57.7,536.2 58.1,536.4 58.5,536.2 58.9,536.1 59.3,536.5 59.6,536.6 60.0,536.3 60.4,536.6 60.8,536.7 61.2,536.6 61.6,537.4 62.0,538.2 62.4,537.4 62.7,536.3 63.1,536.7 63.5,537.6 63.9,537.4 64.3,536.9 64.7,537.5 65.1,537.5 65.4,536.9 65.8,537.2 66.2,537.0 66.6,536.7 67.0,536.7 67.4,536.1 67.8,535.6 68.1,536.7 68.5,538.0 68.9,538.1 69.3,537.2 69.7,536.5 70.1,536.4 70.5,536.6 70.8,537.0 71.2,537.1 71.6,536.8 72.0,536.4 72.4,536.3 72.8,535.5 73.2,534.6 73.6,535.7 73.9,536.4 74.3,535.3 74.7,535.6 75.1,536.3 75.5,535.7 75.9,535.9 76.3,536.7 76.6,537.0 77.0,536.9 77.4,535.9 77.8,535.3 78.2,535.6 78.6,535.1 79.0,534.9 79.3,536.0 79.7,536.2 80.1,536.4 80.5,537.0 80.9,536.9 81.3,536.0 81.7,535.7 82.1,536.0 82.4,535.6 82.8,535.1 83.2,534.9 83.6,534.8 84.0,534.9 84.4,534.5 84.8,533.9 85.1,534.5 85.5,535.0 85.9,535.3 86.3,536.0 86.7,535.7 87.1,534.7 87.5,534.1 87.8,534.0 88.2,535.2 88.6,535.5 89.0,533.8 89.4,533.9 89.8,534.8 90.2,534.2 90.6,534.8 90.9,535.9 91.3,535.5 91.7,534.2 92.1,533.4 92.5,534.0 92.9,534.2 93.3,533.9 93.6,533.9 94.0,533.6 94.4,532.4 94.8,531.3 95.2,531.5 95.6,532.4 96.0,532.3 96.3,531.4 96.7,531.1 97.1,531.2 97.5,530.2 97.9,527.8 98.3,527.4 98.7,527.9 99.1,526.6 99.4,526.3 99.8,527.5 100.2,526.9 100.6,525.1 101.0,524.0 101.4,523.5 101.8,523.1 102.1,521.6 102.5,519.4 102.9,518.7 103.3,519.8 103.7,518.9 104.1,516.9 104.5,517.2 104.8,517.0 105.2,515.3 105.6,513.6 106.0,512.2 106.4,511.8 106.8,511.2 107.2,509.5 107.6,507.4 107.9,505.6 108.3,505.4 108.7,505.4 109.1,503.2 109.5,500.5 109.9,499.9 110.3,499.4 110.6,496.9 111.0,493.6 111.4,491.5 111.8,490.0 112.2,487.6 112.6,485.4 113.0,484.1 113.3,481.5 113.7,477.8 114.1,475.3 114.5,473.9 114.9,472.1 115.3,470.0 115.7,468.4 116.1,466.8 116.4,464.8 116.8,462.3 117.2,458.8 117.6,455.7 118.0,454.0 118.4,451.7 118.8,449.3 119.1,447.5 119.5,445.8 119.9,444.3 120.3,441.2 120.7,438.5 121.1,437.2 121.5,434.5 121.8,431.5 122.2,429.9 122.6,428.6 123.0,427.4 123.4,426.6 123.8,426.1 124.2,426.3 124.6,427.2 124.9,428.5 125.3,429.6 125.7,431.0 126.1,433.0 126.5,435.5 126.9,438.5 127.3,441.4 127.6,443.6 128.0,445.5 128.4,448.0 128.8,450.6 129.2,452.8 129.6,454.6 130.0,456.5 130.3,458.3 130.7,459.9 131.1,461.2 131.5,462.4 131.9,463.3 132.3,464.1 132.7,465.0 133.1,466.2 133.4,467.5 133.8,468.1 134.2,468.7 134.6,469.3 135.0,469.8 135.4,470.5 135.8,471.6 136.1,472.4 136.5,472.8 136.9,473.2 137.3,473.8 137.7,474.0 138.1,473.2 138.5,472.5 138.8,472.2 139.2,471.0 139.6,468.9 140.0,466.6 140.4,464.2 140.8,460.9 141.2,456.6 141.6,453.1 141.9,449.7 142.3,446.6 142.7,443.3 143.1,438.7 143.5,434.6 143.9,431.1 144.3,427.9 144.6,425.0 145.0,422.6 145.4,421.4 145.8,421.4 146.2,422.2 146.6,424.1 147.0,427.1 147.4,431.5 147.7,436.3 148.1,441.0 148.5,446.1 148.9,451.2 149.3,456.8 149.7,462.8 150.1,468.0 150.4,472.3 150.8,477.1 151.2,482.3 151.6,486.4 152.0,490.7 152.4,496.7 152.8,502.3 153.1,506.7 153.5,510.3 153.9,513.3 154.3,516.4 154.7,519.0 155.1,521.5 155.5,524.8 155.8,525.8 156.2,525.1 156.6,526.3 157.0,528.3 157.4,529.1 157.8,529.6 158.2,531.0 158.6,532.8 158.9,534.0 159.3,534.4 159.7,534.8 160.1,535.3 160.5,535.3 160.9,535.1 161.3,534.8 161.6,535.0 162.0,535.8 162.4,535.1 162.8,534.0 163.2,534.2 163.6,534.1 164.0,533.7 164.3,533.8 164.7,534.9 165.1,536.2 165.5,536.2 165.9,536.3 166.3,536.8 166.7,536.8 167.1,537.1 167.4,537.0 167.8,535.9 168.2,535.7 168.6,536.3 169.0,536.6 169.4,536.3 169.8,536.1 170.1,535.9 170.5,535.8 170.9,535.6 171.3,535.2 171.7,534.8 172.1,535.3 172.5,536.0 172.8,536.0 173.2,535.4 173.6,535.5 174.0,536.4 174.4,538.2 174.8,538.1 175.2,536.1 175.6,534.6 175.9,534.1 176.3,534.4 176.7,535.1 177.1,535.9 177.5,536.1 177.9,535.6 178.3,535.4 178.6,535.3 179.0,535.1 179.4,534.9 179.8,534.9 180.2,535.6 180.6,536.2 181.0,536.3 181.3,535.4 181.7,534.6 182.1,534.7 182.5,534.5 182.9,534.2 183.3,534.4 183.7,535.0 184.1,535.8 184.4,535.0 184.8,534.5 185.2,535.4 185.6,536.0 186.0,535.9 186.4,535.9 186.8,535.5 187.1,534.8 187.5,535.7 187.9,536.1 188.3,534.4 188.7,534.0 189.1,534.6 189.5,535.0 189.8,535.6 190.2,535.5 190.6,534.7 191.0,534.2 191.4,534.4 191.8,535.2 192.2,535.8 192.6,535.4 192.9,534.3 193.3,534.2 193.7,535.4 194.1,535.5 194.5,534.5 194.9,534.3 195.3,535.2 195.6,536.3 196.0,536.4 196.4,535.9 196.8,536.1 197.2,536.1 197.6,535.1 198.0,534.7 198.3,535.5 198.7,536.2 199.1,535.4 199.5,535.1 199.9,536.0 200.3,535.6 200.7,535.1 201.1,535.4 201.4,535.3 201.8,535.0 202.2,534.5 202.6,534.6 203.0,534.4 203.4,533.7 203.8,533.7 204.1,534.7 204.5,536.1 204.9,536.0 205.3,534.8 205.7,534.6 206.1,534.9 206.5,535.3 206.8,535.9 207.2,536.1 207.6,536.1 208.0,535.8 208.4,535.9 208.8,536.1 209.2,535.0 209.6,534.5 209.9,535.7 210.3,535.9 210.7,535.1 211.1,534.8 211.5,534.3 211.9,534.7 212.3,535.2 212.6,534.6 213.0,533.9 213.4,534.2 213.8,534.8 214.2,535.6 214.6,536.7 215.0,536.0 215.3,534.3 215.7,533.9 216.1,534.2 216.5,534.6 216.9,534.9 217.3,535.0 217.7,535.0 218.1,534.9 218.4,535.0 218.8,534.7 219.2,534.4 219.6,534.4 220.0,534.2 220.4,534.1 220.8,534.0 221.1,534.5 221.5,536.2 221.9,536.6 222.3,535.1 222.7,533.8 223.1,533.4 223.5,533.9 223.8,534.9 224.2,535.5 224.6,535.0 225.0,535.1 225.4,536.3 225.8,536.5 226.2,535.8 226.6,536.3 226.9,537.4 227.3,536.4 227.7,535.3 228.1,535.4 228.5,535.2 228.9,535.4 229.3,535.9 229.6,535.6 230.0,535.8 230.4,536.1 230.8,535.1 231.2,534.9 231.6,536.5 232.0,537.7 232.3,536.5 232.7,534.7 233.1,535.0 233.5,535.9 233.9,536.4 234.3,537.1 234.7,537.2 235.1,536.0 235.4,535.9 235.8,537.1 236.2,537.1 236.6,536.4 237.0,535.7 237.4,534.9 237.8,534.1 238.1,533.7 238.5,533.8 238.9,534.6 239.3,536.0 239.7,535.9 240.1,534.8 240.5,534.9 240.8,536.0 241.2,537.5 241.6,537.2 242.0,535.5 242.4,535.1 242.8,535.7 243.2,536.5 243.6,536.7 243.9,535.4 244.3,534.0 244.7,533.9 245.1,534.9" stroke="#0000ff" stroke-width="1.6"/>
<path d="M130.7,453.6 131.4,457.5 132.1,461.6 132.8,466.0 133.5,470.4 134.2,474.9 134.9,479.4 135.7,483.9 136.4,488.2 137.1,492.5 137.8,496.6 138.5,500.5 139.2,504.2 139.9,507.6 140.6,510.8 141.3,513.8 142.0,516.5 142.8,519.0 143.5,521.2 144.2,523.2 144.9,525.0 145.6,526.6 146.3,527.9 147.0,529.1 147.7,530.2 148.4,531.1 149.2,531.8 149.9,532.5 150.6,533.0 151.3,533.5 152.0,533.9 152.7,534.2 153.4,534.4 154.1,534.6 154.8,534.8 155.6,535.0 156.3,535.1 157.0,535.2 157.7,535.2 158.4,535.3 159.1,535.3 159.8,535.4 160.5,535.4 161.2,535.4 161.9,535.4" stroke="#00ff00" stroke-width="1.2"/>
<path d="M89.5,535.5 90.2,535.5 90.9,535.5 91.6,535.5 92.3,535.5 93.0,535.5 93.7,535.5 94.4,535.5 95.1,535.5 95.9,535.5 96.6,535.5 97.3,535.5 98.0,535.5 98.7,535.5 99.4,535.5 100.1,535.5 100.8,535.5 101.5,535.5 102.2,535.5 103.0,535.5 103.7,535.5 104.4,535.5 105.1,535.5 105.8,535.5 106.5,535.5 107.2,535.5 107.9,535.5 108.6,535.5 109.4,535.5 110.1,535.5 110.8,535.5 111.5,535.5 112.2,535.5 112.9,535.5 113.6,535.5 114.3,535.5 115.0,535.5 115.8,535.5 116.5,535.5 117.2,535.5 117.9,535.5 118.6,535.5 119.3,535.5 120.0,535.5 120.7,535.5 121.4,535.5 122.1,535.5 122.9,535.5 123.6,535.5 124.3,535.5 125.0,535.5 125.7,535.5 126.4,535.5 127.1,535.4 127.8,535.4 128.5,535.4 129.3,535.4 130.0,535.3 130.7,535.2 131.4,535.0 132.1,534.7 132.8,534.2 133.5,533.5 134.2,532.5 134.9,530.9 135.7,528.8 136.4,525.9 137.1,522.0 137.8,517.2 138.5,511.2 139.2,504.1 139.9,495.9 140.6,487.0 141.3,477.5 142.0,468.0 142.8,459.0 143.5,451.1 144.2,444.8 144.9,440.5 145.6,438.6 146.3,439.1 147.0,441.7 147.7,446.3 148.4,452.5 149.2,460.0 149.9,468.4 150.6,477.1 151.3,485.8 152.0,494.1 152.7,501.8 153.4,508.7 154.1,514.6 154.8,519.6 155.6,523.7 156.3,526.9 157.0,529.3" stroke="#00ff00" stroke-width="1.2"/>
<path d="M32.6,535.5 33.3,535.5 34.0,535.5 34.7,535.5 35.4,535.5 36.2,535.5 36.9,535.5 37.6,535.5 38.3,535.5 39.0,535.5 39.7,535.5 40.4,535.5 41.1,535.5 41.8,535.5 42.5,535.5 43.3,535.5 44.0,535.5 44.7,535.5 45.4,535.5 46.1,535.5 46.8,535.5 47.5,535.5 48.2,535.5 48.9,535.5 49.7,535.5 50.4,535.5 51.1,535.5 51.8,535.5 52.5,535.5 53.2,535.5 53.9,535.5 54.6,535.5 55.3,535.5 56.1,535.5 56.8,535.5 57.5,535.5 58.2,535.5 58.9,535.5 59.6,535.5 60.3,535.5 61.0,535.5 61.7,535.5 62.4,535.5 63.2,535.5 63.9,535.5 64.6,535.5 65.3,535.5 66.0,535.5 66.7,535.5 67.4,535.5 68.1,535.5 68.8,535.5 69.6,535.5 70.3,535.5 71.0,535.5 71.7,535.5 72.4,535.5 73.1,535.5 73.8,535.5 74.5,535.5 75.2,535.5 76.0,535.5 76.7,535.5 77.4,535.5 78.1,535.5 78.8,535.5 79.5,535.5 80.2,535.5 80.9,535.5 81.6,535.4 82.3,535.4 83.1,535.4 83.8,535.4 84.5,535.4 85.2,535.4 85.9,535.4 86.6,535.4 87.3,535.3 88.0,535.3 88.7,535.2 89.5,535.2 90.2,535.1 90.9,535.0 91.6,534.9 92.3,534.7 93.0,534.6 93.7,534.4 94.4,534.1 95.1,533.8 95.9,533.5 96.6,533.1 97.3,532.6 98.0,532.0 98.7,531.4 99.4,530.6 100.1,529.7 100.8,528.7 101.5,527.6 102.2,526.3 103.0,524.8 103.7,523.2 104.4,521.4 105.1,519.4 105.8,517.2 106.5,514.8 107.2,512.2 107.9,509.4 108.6,506.4 109.4,503.2 110.1,499.8 110.8,496.2 111.5,492.5 112.2,488.7 112.9,484.7 113.6,480.7 114.3,476.6 115.0,472.5 115.8,468.4 116.5,464.4 117.2,460.5 117.9,456.8 118.6,453.3 119.3,450.0 120.0,447.0 120.7,444.3 121.4,442.0 122.1,440.1 122.9,438.5 123.6,437.5 124.3,436.8 125.0,436.7 125.7,437.0 126.4,437.9 127.1,439.4 127.8,441.3 128.5,443.8 129.3,446.6 130.0,449.8 130.7,453.3 131.4,457.0 132.1,460.9 132.8,464.7 133.5,468.5 134.2,471.9 134.9,474.8 135.7,477.2 136.4,478.6 137.1,479.0 137.8,478.3 138.5,476.2 139.2,472.7 139.9,468.1 140.6,462.3 141.3,455.8 142.0,449.1 142.8,442.6 143.5,436.8 144.2,432.5 144.9,430.0 145.6,429.6 146.3,431.5 147.0,435.4 147.7,441.0 148.4,448.1 149.2,456.4 149.9,465.4 150.6,474.6 151.3,483.8 152.0,492.5 152.7,500.6 153.4,507.7 154.1,513.8 154.8,519.0 155.6,523.2 156.3,526.5 157.0,529.0 157.7,531.0 158.4,532.4 159.1,533.4 159.8,534.1 160.5,534.6 161.2,534.9 161.9,535.1 162.7,535.2 163.4,535.3 164.1,535.4 164.8,535.4 165.5,535.4 166.2,535.4 166.9,535.5 167.6,535.5 168.3,535.5 169.1,535.5 169.8,535.5 170.5,535.5 171.2,535.5 171.9,535.5 172.6,535.5 173.3,535.5 174.0,535.5 174.7,535.5 175.5,535.5 176.2,535.5 176.9,535.5 177.6,535.5 178.3,535.5 179.0,535.5 179.7,535.5 180.4,535.5 181.1,535.5 181.8,535.5 182.6,535.5 183.3,535.5 184.0,535.5 184.7,535.5 185.4,535.5 186.1,535.5 186.8,535.5 187.5,535.5 188.2,535.5 189.0,535.5 189.7,535.5 190.4,535.5 191.1,535.5 191.8,535.5 192.5,535.5 193.2,535.5 193.9,535.5 194.6,535.5 195.4,535.5 196.1,535.5 196.8,535.5 197.5,535.5 198.2,535.5 198.9,535.5 199.6,535.5 200.3,535.5 201.0,535.5 201.7,535.5 202.5,535.5 203.2,535.5 203.9,535.5 204.6,535.5 205.3,535.5 206.0,535.5 206.7,535.5 207.4,535.5 208.1,535.5 208.9,535.5 209.6,535.5 210.3,535.5 211.0,535.5 211.7,535.5 212.4,535.5 213.1,535.5 213.8,535.5 214.5,535.5 215.3,535.5 216.0,535.5 216.7,535.5 217.4,535.5 218.1,535.5 218.8,535.5 219.5,535.5 220.2,535.5 220.9,535.5 221.6,535.5 222.4,535.5 223.1,535.5 223.8,535.5 224.5,535.5 225.2,535.5 225.9,535.5 226.6,535.5 227.3,535.5 228.0,535.5 228.8,535.5 229.5,535.5 230.2,535.5 230.9,535.5 231.6,535.5 232.3,535.5 233.0,535.5 233.7,535.5 234.4,535.5 235.2,535.5 235.9,535.5 236.6,535.5 237.3,535.5 238.0,535.5 238.7,535.5 239.4,535.5 240.1,535.5 240.8,535.5 241.5,535.5 242.3,535.5 243.0,535.5 243.7,535.5 244.4,535.5 245.1,535.5" stroke="#ff0000" stroke-width="1.4"/>
</g>
<rect x="32.70" y="398.60" width="212.40" height="156.80" fill="none" stroke="#111" stroke-width="1.3"/>
<path d="M32.60,555.40v2.6 M71.24,555.40v2.6 M109.87,555.40v2.6 M148.51,555.40v2.6 M187.15,555.40v2.6 M225.78,555.40v2.6 M51.92,555.40v1.5 M90.55,555.40v1.5 M129.19,555.40v1.5 M167.83,555.40v1.5 M206.46,555.40v1.5 M245.10,555.40v1.5 M32.60,543.34h-2.8 M32.60,519.22h-2.8 M32.60,495.09h-2.8 M32.60,470.97h-2.8 M32.60,446.85h-2.8 M32.60,422.72h-2.8 M32.60,398.60h-2.8 M32.60,531.28h-1.5 M32.60,507.15h-1.5 M32.60,483.03h-1.5 M32.60,458.91h-1.5 M32.60,434.78h-1.5 M32.60,410.66h-1.5" stroke="#111" stroke-width="1.1" fill="none"/>
<text x="32.60" y="566.90" text-anchor="middle" class="tl">400</text>
<text x="71.24" y="566.90" text-anchor="middle" class="tl">800</text>
<text x="109.87" y="566.90" text-anchor="middle" class="tl">1200</text>
<text x="148.51" y="566.90" text-anchor="middle" class="tl">1600</text>
<text x="187.15" y="566.90" text-anchor="middle" class="tl">2000</text>
<text x="225.78" y="566.90" text-anchor="middle" class="tl">2400</text>
<text x="26.80" y="546.24" text-anchor="end" class="tl">200</text>
<text x="26.80" y="522.12" text-anchor="end" class="tl">300</text>
<text x="26.80" y="497.99" text-anchor="end" class="tl">400</text>
<text x="26.80" y="473.87" text-anchor="end" class="tl">500</text>
<text x="26.80" y="449.75" text-anchor="end" class="tl">600</text>
<text x="26.80" y="425.62" text-anchor="end" class="tl">700</text>
<text x="26.80" y="401.50" text-anchor="end" class="tl">800</text>
<text x="98.40" y="579.70" class="ts">Wavenumber(cm<tspan dy="-3.6" font-size="6.2">-1</tspan><tspan dy="3.6">)</tspan></text>
<text transform="translate(9.70,476.90) rotate(-90)" text-anchor="middle" class="ts">Intensity</text>
<text transform="translate(37.90,433.05) scale(1,0.93)" class="pl">(e)</text>
<path d="M184.50,411.80H207.60" stroke="#0000ff" stroke-width="1.25"/>
<text x="210.50" y="415.20" class="lg">AEGS0</text>
<text x="161.10" y="507.80" class="rt">I<tspan x="166.30" dy="6.4" font-size="12">D</tspan><tspan x="174.50" dy="-6.4">/I</tspan><tspan x="185.00" dy="6.4" font-size="12">G</tspan><tspan x="195.40" dy="-6.4">=2.73</tspan></text>
<clipPath id="clipf"><rect x="331.10" y="394.40" width="213.10" height="156.90"/></clipPath>
<g clip-path="url(#clipf)" fill="none" stroke-linejoin="round" stroke-linecap="round">
<path d="M340.8,523.2 341.2,524.1 341.6,526.6 341.9,525.8 342.3,523.5 342.7,523.0 343.1,523.1 343.5,523.2 343.9,523.8 344.3,524.3 344.7,525.1 345.0,526.3 345.4,526.1 345.8,525.3 346.2,524.8 346.6,523.5 347.0,522.4 347.4,522.8 347.8,523.6 348.1,524.2 348.5,525.6 348.9,526.1 349.3,525.2 349.7,525.4 350.1,527.1 350.5,527.2 350.9,525.8 351.2,525.0 351.6,523.9 352.0,523.7 352.4,524.2 352.8,524.0 353.2,523.9 353.6,524.1 354.0,524.3 354.3,525.3 354.7,526.3 355.1,526.3 355.5,526.0 355.9,526.5 356.3,526.4 356.7,525.2 357.1,525.7 357.4,526.0 357.8,524.3 358.2,523.3 358.6,523.6 359.0,523.6 359.4,524.1 359.8,524.6 360.2,522.9 360.5,522.0 360.9,522.7 361.3,523.3 361.7,524.1 362.1,523.7 362.5,521.7 362.9,520.5 363.3,520.7 363.6,520.5 364.0,520.4 364.4,521.2 364.8,521.3 365.2,521.9 365.6,523.3 366.0,524.1 366.4,524.6 366.7,523.8 367.1,523.3 367.5,524.3 367.9,524.7 368.3,524.2 368.7,523.8 369.1,523.9 369.5,524.0 369.8,523.8 370.2,524.3 370.6,524.4 371.0,523.3 371.4,523.1 371.8,524.4 372.2,523.9 372.6,522.8 372.9,524.0 373.3,524.7 373.7,523.8 374.1,523.1 374.5,523.1 374.9,523.7 375.3,523.2 375.7,522.1 376.0,522.5 376.4,523.1 376.8,522.8 377.2,524.0 377.6,525.3 378.0,524.5 378.4,523.4 378.8,522.9 379.1,522.3 379.5,521.9 379.9,522.2 380.3,521.8 380.7,521.9 381.1,524.2 381.5,524.9 381.9,523.8 382.2,524.3 382.6,524.8 383.0,523.6 383.4,523.3 383.8,523.1 384.2,520.4 384.6,518.2 385.0,518.6 385.3,519.6 385.7,520.1 386.1,520.0 386.5,519.4 386.9,518.7 387.3,518.1 387.7,517.3 388.1,516.1 388.4,515.0 388.8,515.6 389.2,517.7 389.6,517.7 390.0,515.8 390.4,514.8 390.8,513.9 391.2,513.2 391.5,512.5 391.9,511.6 392.3,511.2 392.7,511.6 393.1,511.2 393.5,509.7 393.9,509.1 394.3,508.9 394.6,508.2 395.0,507.8 395.4,507.9 395.8,507.9 396.2,507.9 396.6,508.2 397.0,507.8 397.4,506.8 397.7,506.5 398.1,505.2 398.5,503.5 398.9,504.2 399.3,503.2 399.7,501.2 400.1,501.5 400.5,501.0 400.8,500.1 401.2,500.7 401.6,501.5 402.0,500.6 402.4,498.2 402.8,497.3 403.2,497.5 403.6,495.9 403.9,493.9 404.3,492.2 404.7,491.5 405.1,491.5 405.5,490.3 405.9,488.0 406.3,484.8 406.7,482.8 407.0,483.5 407.4,483.5 407.8,482.3 408.2,481.3 408.6,480.0 409.0,478.9 409.4,478.3 409.8,477.3 410.1,475.4 410.5,473.7 410.9,472.1 411.3,470.3 411.7,468.7 412.1,466.9 412.5,464.9 412.9,463.0 413.2,460.3 413.6,457.6 414.0,456.0 414.4,453.8 414.8,450.5 415.2,447.7 415.6,445.9 416.0,443.7 416.3,441.2 416.7,439.7 417.1,438.5 417.5,435.8 417.9,433.5 418.3,431.5 418.7,428.8 419.1,426.2 419.4,424.2 419.8,422.8 420.2,421.3 420.6,419.3 421.0,417.3 421.4,416.3 421.8,416.0 422.2,416.2 422.5,416.8 422.9,418.1 423.3,419.9 423.7,421.4 424.1,423.1 424.5,425.6 424.9,427.4 425.3,428.6 425.6,431.2 426.0,434.2 426.4,435.7 426.8,437.7 427.2,440.0 427.6,441.8 428.0,443.7 428.4,445.5 428.7,446.7 429.1,447.5 429.5,448.6 429.9,450.0 430.3,451.5 430.7,452.4 431.1,452.8 431.5,453.4 431.8,454.8 432.2,455.4 432.6,455.1 433.0,455.7 433.4,456.7 433.8,457.3 434.2,457.4 434.6,457.3 434.9,457.8 435.3,458.6 435.7,459.0 436.1,458.4 436.5,457.7 436.9,457.6 437.3,458.0 437.7,458.8 438.0,457.7 438.4,455.0 438.8,452.9 439.2,451.1 439.6,449.2 440.0,446.5 440.4,443.2 440.7,440.5 441.1,437.6 441.5,434.5 441.9,431.3 442.3,428.1 442.7,426.2 443.1,425.1 443.5,423.5 443.8,421.9 444.2,421.3 444.6,421.8 445.0,422.9 445.4,424.9 445.8,428.1 446.2,432.1 446.6,436.5 446.9,441.0 447.3,445.0 447.7,449.6 448.1,455.7 448.5,460.6 448.9,464.6 449.3,468.3 449.7,471.8 450.0,476.5 450.4,481.6 450.8,485.4 451.2,488.0 451.6,491.4 452.0,495.1 452.4,499.5 452.8,504.4 453.1,507.4 453.5,508.4 453.9,509.2 454.3,510.7 454.7,512.1 455.1,513.3 455.5,514.3 455.9,515.2 456.2,517.4 456.6,519.8 457.0,519.4 457.4,518.9 457.8,519.9 458.2,519.4 458.6,519.6 459.0,521.6 459.3,523.0 459.7,523.6 460.1,523.4 460.5,524.4 460.9,525.4 461.3,525.1 461.7,525.0 462.1,525.0 462.4,524.8 462.8,525.2 463.2,525.2 463.6,523.5 464.0,522.7 464.4,524.7 464.8,526.7 465.2,526.8 465.5,526.0 465.9,526.1 466.3,527.3 466.7,528.7 467.1,529.0 467.5,527.8 467.9,526.6 468.3,527.9 468.6,529.2 469.0,527.3 469.4,525.4 469.8,526.9 470.2,529.3 470.6,528.3 471.0,526.5 471.4,526.9 471.7,528.5 472.1,529.8 472.5,529.3 472.9,528.3 473.3,527.4 473.7,527.5 474.1,527.8 474.5,528.2 474.8,529.3 475.2,529.6 475.6,528.7 476.0,528.3 476.4,528.2 476.8,527.7 477.2,528.4 477.6,529.7 477.9,529.9 478.3,530.4 478.7,531.2 479.1,530.4 479.5,528.4 479.9,528.6 480.3,529.9 480.7,528.6 481.0,528.1 481.4,528.9 481.8,527.9 482.2,526.8 482.6,527.7 483.0,528.1 483.4,528.4 483.8,530.1 484.1,531.3 484.5,530.9 484.9,529.3 485.3,528.6 485.7,529.9 486.1,530.4 486.5,529.4 486.9,528.8 487.2,528.4 487.6,528.7 488.0,529.0 488.4,529.0 488.8,529.3 489.2,530.3 489.6,529.7 490.0,526.6 490.3,525.0 490.7,527.4 491.1,530.1 491.5,529.3 491.9,528.9 492.3,530.4 492.7,530.7 493.1,530.4 493.4,530.8 493.8,530.2 494.2,529.1 494.6,529.6 495.0,529.2 495.4,528.5 495.8,530.5 496.2,531.5 496.5,529.1 496.9,527.6 497.3,528.6 497.7,530.1 498.1,531.4 498.5,530.8 498.9,528.6 499.3,528.0 499.6,529.3 500.0,531.0 500.4,532.1 500.8,532.2 501.2,531.4 501.6,530.3 502.0,530.6 502.4,530.3 502.7,529.0 503.1,528.6 503.5,528.9 503.9,528.9 504.3,529.9 504.7,531.0 505.1,530.2 505.5,529.5 505.8,529.3 506.2,528.9 506.6,528.5 507.0,527.7 507.4,527.9 507.8,528.1 508.2,527.9 508.6,527.8 508.9,527.1 509.3,526.6 509.7,527.1 510.1,528.4 510.5,529.0 510.9,528.4 511.3,528.4 511.7,529.3 512.0,529.3 512.4,528.8 512.8,528.6 513.2,527.8 513.6,526.5 514.0,525.8 514.4,526.3 514.8,527.7 515.1,528.2 515.5,526.7 515.9,524.7 516.3,524.8 516.7,526.3 517.1,525.5 517.5,524.9 517.9,526.7 518.2,526.7 518.6,525.2 519.0,525.8 519.4,526.5 519.8,525.2 520.2,524.6 520.6,526.0 521.0,527.3 521.3,526.5 521.7,525.1 522.1,525.0 522.5,525.5 522.9,525.5 523.3,525.1 523.7,525.4 524.1,525.4 524.4,526.0 524.8,526.3 525.2,525.9 525.6,527.1 526.0,527.5 526.4,527.1 526.8,528.3 527.2,528.6 527.5,527.4 527.9,526.8 528.3,526.5 528.7,524.9 529.1,524.2 529.5,524.5 529.9,524.1 530.3,525.0 530.6,527.5 531.0,529.5 531.4,528.8 531.8,526.4 532.2,525.5 532.6,525.6 533.0,524.4 533.4,523.6 533.7,524.6 534.1,525.5 534.5,524.8" stroke="#0000ff" stroke-width="1.6"/>
<path d="M430.8,448.9 431.5,451.5 432.1,454.2 432.8,457.0 433.4,459.8 434.1,462.6 434.7,465.4 435.4,468.3 436.0,471.1 436.7,473.9 437.3,476.7 438.0,479.4 438.6,482.1 439.3,484.7 439.9,487.3 440.6,489.7 441.2,492.1 441.9,494.3 442.5,496.5 443.2,498.6 443.8,500.6 444.5,502.4 445.1,504.2 445.7,505.8 446.4,507.4 447.0,508.8 447.7,510.2 448.3,511.5 449.0,512.6 449.6,513.7 450.3,514.7 450.9,515.6 451.6,516.4 452.2,517.2 452.9,517.9 453.5,518.5 454.2,519.1 454.8,519.6 455.5,520.1 456.1,520.5 456.8,520.8 457.4,521.2 458.1,521.5 458.7,521.7 459.4,521.9 460.0,522.1" stroke="#00ff00" stroke-width="1.2"/>
<path d="M384.2,523.4 384.8,523.4 385.5,523.4 386.1,523.4 386.8,523.4 387.4,523.4 388.1,523.4 388.7,523.4 389.4,523.4 390.0,523.4 390.7,523.4 391.3,523.4 392.0,523.4 392.6,523.4 393.3,523.4 393.9,523.4 394.6,523.4 395.2,523.4 395.9,523.4 396.5,523.4 397.2,523.4 397.8,523.4 398.5,523.4 399.1,523.4 399.7,523.4 400.4,523.4 401.0,523.4 401.7,523.4 402.3,523.4 403.0,523.4 403.6,523.4 404.3,523.4 404.9,523.4 405.6,523.4 406.2,523.4 406.9,523.4 407.5,523.4 408.2,523.4 408.8,523.4 409.5,523.4 410.1,523.4 410.8,523.4 411.4,523.4 412.1,523.4 412.7,523.4 413.4,523.4 414.0,523.4 414.6,523.4 415.3,523.4 415.9,523.4 416.6,523.4 417.2,523.4 417.9,523.4 418.5,523.4 419.2,523.4 419.8,523.4 420.5,523.4 421.1,523.4 421.8,523.4 422.4,523.4 423.1,523.4 423.7,523.4 424.4,523.4 425.0,523.4 425.7,523.4 426.3,523.4 427.0,523.4 427.6,523.4 428.3,523.4 428.9,523.4 429.6,523.3 430.2,523.2 430.8,523.1 431.5,522.9 432.1,522.6 432.8,522.1 433.4,521.3 434.1,520.3 434.7,518.8 435.4,516.8 436.0,514.2 436.7,510.9 437.3,506.8 438.0,501.9 438.6,496.1 439.3,489.7 439.9,482.9 440.6,475.8 441.2,468.8 441.9,462.3 442.5,456.7 443.2,452.4 443.8,449.7 444.5,448.7 445.1,449.4 445.7,451.4 446.4,454.7 447.0,459.0 447.7,464.2 448.3,470.0 449.0,476.2 449.6,482.4 450.3,488.4 450.9,494.2 451.6,499.4 452.2,504.1 452.9,508.1 453.5,511.6 454.2,514.4 454.8,516.7 455.5,518.5 456.1,519.9 456.8,520.9 457.4,521.7 458.1,522.3 458.7,522.6 459.4,522.9 460.0,523.1 460.7,523.2 461.3,523.3 461.9,523.4 462.6,523.4 463.2,523.4 463.9,523.4 464.5,523.4 465.2,523.4 465.8,523.4" stroke="#00ff00" stroke-width="1.2"/>
<path d="M340.8,523.4 341.4,523.4 342.1,523.4 342.7,523.4 343.4,523.4 344.0,523.4 344.7,523.4 345.3,523.4 346.0,523.4 346.6,523.4 347.3,523.4 347.9,523.4 348.6,523.4 349.2,523.4 349.9,523.4 350.5,523.4 351.2,523.4 351.8,523.4 352.4,523.4 353.1,523.4 353.7,523.4 354.4,523.4 355.0,523.4 355.7,523.4 356.3,523.4 357.0,523.4 357.6,523.4 358.3,523.4 358.9,523.4 359.6,523.4 360.2,523.4 360.9,523.4 361.5,523.4 362.2,523.4 362.8,523.4 363.5,523.4 364.1,523.4 364.8,523.4 365.4,523.4 366.1,523.4 366.7,523.4 367.4,523.4 368.0,523.4 368.6,523.4 369.3,523.4 369.9,523.4 370.6,523.4 371.2,523.4 371.9,523.4 372.5,523.4 373.2,523.4 373.8,523.4 374.5,523.4 375.1,523.4 375.8,523.4 376.4,523.4 377.1,523.4 377.7,523.4 378.4,523.4 379.0,523.4 379.7,523.4 380.3,523.3 381.0,523.3 381.6,523.3 382.3,523.3 382.9,523.2 383.5,523.2 384.2,523.1 384.8,523.0 385.5,522.9 386.1,522.8 386.8,522.7 387.4,522.6 388.1,522.4 388.7,522.2 389.4,522.0 390.0,521.7 390.7,521.4 391.3,521.1 392.0,520.7 392.6,520.2 393.3,519.7 393.9,519.1 394.6,518.5 395.2,517.7 395.9,516.9 396.5,516.0 397.2,515.0 397.8,513.9 398.5,512.6 399.1,511.3 399.7,509.8 400.4,508.2 401.0,506.4 401.7,504.5 402.3,502.5 403.0,500.4 403.6,498.1 404.3,495.6 404.9,493.1 405.6,490.4 406.2,487.6 406.9,484.6 407.5,481.6 408.2,478.5 408.8,475.3 409.5,472.1 410.1,468.8 410.8,465.5 411.4,462.2 412.1,458.9 412.7,455.7 413.4,452.6 414.0,449.6 414.6,446.7 415.3,443.9 415.9,441.3 416.6,438.9 417.2,436.7 417.9,434.8 418.5,433.1 419.2,431.7 419.8,430.6 420.5,429.8 421.1,429.2 421.8,429.0 422.4,429.1 423.1,429.4 423.7,430.0 424.4,430.7 425.0,431.7 425.7,432.9 426.3,434.3 427.0,435.9 427.6,437.7 428.3,439.6 428.9,441.7 429.6,443.9 430.2,446.2 430.8,448.6 431.5,451.0 432.1,453.3 432.8,455.6 433.4,457.7 434.1,459.4 434.7,460.8 435.4,461.7 436.0,461.9 436.7,461.4 437.3,460.0 438.0,457.8 438.6,454.8 439.3,451.0 439.9,446.7 440.6,442.0 441.2,437.4 441.9,433.2 442.5,429.8 443.2,427.6 443.8,426.8 444.5,427.7 445.1,430.1 445.7,433.8 446.4,438.6 447.0,444.4 447.7,451.0 448.3,458.0 449.0,465.3 449.6,472.6 450.3,479.7 450.9,486.3 451.6,492.4 452.2,497.8 452.9,502.6 453.5,506.6 454.2,510.0 454.8,512.8 455.5,515.1 456.1,516.9 456.8,518.3 457.4,519.4 458.1,520.3 458.7,520.9 459.4,521.4 460.0,521.8 460.7,522.1 461.3,522.3 461.9,522.5 462.6,522.7 463.2,522.8 463.9,522.9 464.5,523.0 465.2,523.1 465.8,523.1 466.5,523.2 467.1,523.2 467.8,523.3 468.4,523.3 469.1,523.3 469.7,523.3 470.4,523.3 471.0,523.4 471.7,523.4 472.3,523.4 473.0,523.4 473.6,523.4 474.3,523.4 474.9,523.4 475.6,523.4 476.2,523.4 476.8,523.4 477.5,523.4 478.1,523.4 478.8,523.4 479.4,523.4 480.1,523.4 480.7,523.4 481.4,523.4 482.0,523.4 482.7,523.4 483.3,523.4 484.0,523.4 484.6,523.4 485.3,523.4 485.9,523.4 486.6,523.4 487.2,523.4 487.9,523.4 488.5,523.4 489.2,523.4 489.8,523.4 490.5,523.4 491.1,523.4 491.8,523.4 492.4,523.4 493.0,523.4 493.7,523.4 494.3,523.4 495.0,523.4 495.6,523.4 496.3,523.4 496.9,523.4 497.6,523.4 498.2,523.4 498.9,523.4 499.5,523.4 500.2,523.4 500.8,523.4 501.5,523.4 502.1,523.4 502.8,523.4 503.4,523.4 504.1,523.4 504.7,523.4 505.4,523.4 506.0,523.4 506.7,523.4 507.3,523.4 507.9,523.4 508.6,523.4 509.2,523.4 509.9,523.4 510.5,523.4 511.2,523.4 511.8,523.4 512.5,523.4 513.1,523.4 513.8,523.4 514.4,523.4 515.1,523.4 515.7,523.4 516.4,523.4 517.0,523.4 517.7,523.4 518.3,523.4 519.0,523.4 519.6,523.4 520.3,523.4 520.9,523.4 521.6,523.4 522.2,523.4 522.9,523.4 523.5,523.4 524.1,523.4 524.8,523.4 525.4,523.4 526.1,523.4 526.7,523.4 527.4,523.4 528.0,523.4 528.7,523.4 529.3,523.4 530.0,523.4 530.6,523.4 531.3,523.4 531.9,523.4 532.6,523.4 533.2,523.4 533.9,523.4 534.5,523.4" stroke="#ff0000" stroke-width="1.4"/>
</g>
<rect x="331.20" y="394.40" width="213.00" height="156.90" fill="none" stroke="#111" stroke-width="1.3"/>
<path d="M331.10,551.30v2.6 M369.85,551.30v2.6 M408.59,551.30v2.6 M447.34,551.30v2.6 M486.08,551.30v2.6 M524.83,551.30v2.6 M350.47,551.30v1.5 M389.22,551.30v1.5 M427.96,551.30v1.5 M466.71,551.30v1.5 M505.45,551.30v1.5 M544.20,551.30v1.5 M331.10,535.61h-2.8 M331.10,504.23h-2.8 M331.10,472.85h-2.8 M331.10,441.47h-2.8 M331.10,410.09h-2.8 M331.10,519.92h-1.5 M331.10,488.54h-1.5 M331.10,457.16h-1.5 M331.10,425.78h-1.5" stroke="#111" stroke-width="1.1" fill="none"/>
<text x="331.10" y="563.20" text-anchor="middle" class="tl">400</text>
<text x="369.85" y="563.20" text-anchor="middle" class="tl">800</text>
<text x="408.59" y="563.20" text-anchor="middle" class="tl">1200</text>
<text x="447.34" y="563.20" text-anchor="middle" class="tl">1600</text>
<text x="486.08" y="563.20" text-anchor="middle" class="tl">2000</text>
<text x="524.83" y="563.20" text-anchor="middle" class="tl">2400</text>
<text x="325.40" y="538.51" text-anchor="end" class="tl">200</text>
<text x="325.40" y="507.13" text-anchor="end" class="tl">300</text>
<text x="325.40" y="475.75" text-anchor="end" class="tl">400</text>
<text x="325.40" y="444.37" text-anchor="end" class="tl">500</text>
<text x="325.40" y="412.99" text-anchor="end" class="tl">600</text>
<text x="395.00" y="574.00" class="tt">Wavenumber(cm<tspan dy="-3.6" font-size="6.2">-1</tspan><tspan dy="3.6">)</tspan></text>
<text transform="translate(307.80,469.40) rotate(-90)" text-anchor="middle" class="tt">Intensity</text>
<text transform="translate(341.00,433.05) scale(1,0.93)" class="pl">(f)</text>
<path d="M483.60,407.40H506.00" stroke="#0000ff" stroke-width="1.25"/>
<text x="509.40" y="410.80" class="lg">AEGS1</text>
<text x="461.50" y="507.50" class="rt">I<tspan x="466.70" dy="6.4" font-size="12">D</tspan><tspan x="474.90" dy="-6.4">/I</tspan><tspan x="485.40" dy="6.4" font-size="12">G</tspan><tspan x="495.80" dy="-6.4">=2.64</tspan></text>
<clipPath id="clipg"><rect x="32.60" y="597.20" width="212.90" height="156.90"/></clipPath>
<g clip-path="url(#clipg)" fill="none" stroke-linejoin="round" stroke-linecap="round">
<path d="M42.3,727.9 42.7,727.9 43.1,728.6 43.4,729.3 43.8,729.4 44.2,729.2 44.6,727.8 45.0,726.9 45.4,728.2 45.8,728.6 46.1,727.7 46.5,727.4 46.9,728.2 47.3,728.9 47.7,728.2 48.1,728.0 48.5,729.3 48.9,730.1 49.2,730.8 49.6,731.2 50.0,730.7 50.4,729.8 50.8,729.3 51.2,728.3 51.6,727.8 52.0,729.4 52.3,730.9 52.7,729.9 53.1,728.3 53.5,728.7 53.9,729.7 54.3,729.8 54.7,729.7 55.1,728.8 55.4,727.8 55.8,728.3 56.2,728.0 56.6,727.4 57.0,728.2 57.4,728.4 57.8,727.9 58.1,728.5 58.5,729.2 58.9,727.9 59.3,727.4 59.7,728.5 60.1,727.9 60.5,727.8 60.9,727.6 61.2,725.9 61.6,726.8 62.0,728.8 62.4,728.3 62.8,727.5 63.2,727.6 63.6,727.5 64.0,727.4 64.3,726.6 64.7,726.6 65.1,727.9 65.5,728.4 65.9,728.1 66.3,728.2 66.7,728.7 67.1,728.4 67.4,726.9 67.8,725.2 68.2,725.4 68.6,727.3 69.0,727.0 69.4,726.4 69.8,727.3 70.1,726.7 70.5,724.6 70.9,723.3 71.3,723.7 71.7,725.0 72.1,725.5 72.5,724.5 72.9,723.7 73.2,724.7 73.6,725.2 74.0,724.7 74.4,724.9 74.8,725.7 75.2,726.1 75.6,725.6 76.0,724.7 76.3,723.5 76.7,723.5 77.1,724.1 77.5,724.2 77.9,724.2 78.3,723.8 78.7,723.8 79.1,724.7 79.4,725.4 79.8,725.7 80.2,727.1 80.6,727.5 81.0,726.3 81.4,725.5 81.8,723.6 82.1,722.5 82.5,724.5 82.9,725.4 83.3,724.3 83.7,723.8 84.1,724.3 84.5,724.2 84.9,723.3 85.2,723.7 85.6,724.8 86.0,724.4 86.4,724.1 86.8,724.3 87.2,723.8 87.6,723.1 88.0,722.0 88.3,721.6 88.7,722.1 89.1,722.3 89.5,722.8 89.9,723.7 90.3,722.7 90.7,721.6 91.1,721.5 91.4,720.6 91.8,720.1 92.2,719.3 92.6,718.4 93.0,717.4 93.4,717.7 93.8,717.8 94.1,715.3 94.5,713.9 94.9,715.0 95.3,715.4 95.7,715.3 96.1,714.5 96.5,713.1 96.9,713.0 97.2,713.1 97.6,713.0 98.0,713.0 98.4,711.7 98.8,709.6 99.2,708.6 99.6,708.0 100.0,708.1 100.3,708.4 100.7,707.9 101.1,706.9 101.5,705.9 101.9,705.2 102.3,705.1 102.7,705.0 103.1,702.9 103.4,700.4 103.8,700.9 104.2,700.8 104.6,698.1 105.0,696.8 105.4,697.6 105.8,697.0 106.1,696.4 106.5,695.5 106.9,693.0 107.3,691.5 107.7,691.3 108.1,690.5 108.5,689.3 108.9,688.5 109.2,688.1 109.6,687.8 110.0,686.2 110.4,683.9 110.8,682.9 111.2,681.9 111.6,680.7 112.0,679.5 112.3,677.8 112.7,675.9 113.1,674.1 113.5,672.2 113.9,669.8 114.3,667.1 114.7,664.6 115.1,662.5 115.4,660.7 115.8,658.1 116.2,653.8 116.6,650.3 117.0,647.8 117.4,644.4 117.8,640.6 118.1,637.1 118.5,634.3 118.9,631.2 119.3,628.0 119.7,625.3 120.1,621.9 120.5,618.8 120.9,616.3 121.2,614.2 121.6,613.3 122.0,613.3 122.4,613.3 122.8,613.3 123.2,614.2 123.6,615.4 124.0,617.2 124.3,620.7 124.7,623.6 125.1,624.7 125.5,626.7 125.9,629.5 126.3,632.4 126.7,635.8 127.1,638.6 127.4,640.5 127.8,643.0 128.2,645.1 128.6,646.4 129.0,648.1 129.4,650.1 129.8,652.0 130.1,653.6 130.5,655.0 130.9,656.1 131.3,656.9 131.7,657.7 132.1,658.1 132.5,657.8 132.9,658.3 133.2,659.8 133.6,660.1 134.0,660.3 134.4,661.2 134.8,661.9 135.2,661.7 135.6,661.4 136.0,661.8 136.3,662.2 136.7,662.4 137.1,662.5 137.5,663.1 137.9,664.0 138.3,664.1 138.7,664.6 139.1,664.5 139.4,661.4 139.8,657.8 140.2,656.7 140.6,656.0 141.0,652.8 141.4,648.3 141.8,645.1 142.1,642.5 142.5,639.2 142.9,635.4 143.3,631.5 143.7,628.2 144.1,625.8 144.5,623.2 144.9,620.4 145.2,618.3 145.6,617.3 146.0,617.5 146.4,618.6 146.8,620.7 147.2,623.7 147.6,626.6 148.0,630.7 148.3,636.1 148.7,640.8 149.1,646.7 149.5,653.2 149.9,657.2 150.3,661.0 150.7,666.4 151.0,671.8 151.4,676.2 151.8,679.6 152.2,683.0 152.6,687.5 153.0,691.4 153.4,694.8 153.8,699.5 154.1,704.3 154.5,706.8 154.9,707.1 155.3,708.4 155.7,711.0 156.1,713.4 156.5,715.7 156.9,717.6 157.2,719.3 157.6,720.4 158.0,720.4 158.4,720.0 158.8,721.4 159.2,723.5 159.6,725.0 160.0,724.7 160.3,723.5 160.7,724.1 161.1,725.7 161.5,727.0 161.9,727.9 162.3,727.0 162.7,726.5 163.0,727.5 163.4,728.2 163.8,728.2 164.2,729.0 164.6,730.1 165.0,730.0 165.4,729.2 165.8,728.6 166.1,728.8 166.5,727.8 166.9,727.2 167.3,728.8 167.7,729.6 168.1,729.1 168.5,729.5 168.9,729.9 169.2,728.2 169.6,727.1 170.0,728.6 170.4,730.2 170.8,730.3 171.2,730.2 171.6,731.1 172.0,730.6 172.3,729.2 172.7,729.3 173.1,728.2 173.5,727.4 173.9,728.4 174.3,728.0 174.7,727.6 175.0,729.3 175.4,731.2 175.8,731.5 176.2,729.8 176.6,728.0 177.0,728.8 177.4,731.0 177.8,731.7 178.1,730.9 178.5,730.2 178.9,730.2 179.3,730.0 179.7,730.0 180.1,730.5 180.5,730.5 180.9,730.3 181.2,730.2 181.6,729.1 182.0,728.1 182.4,729.0 182.8,731.1 183.2,732.2 183.6,732.2 184.0,733.2 184.3,732.8 184.7,730.3 185.1,729.8 185.5,731.6 185.9,733.0 186.3,732.6 186.7,731.6 187.0,729.7 187.4,728.4 187.8,730.2 188.2,732.4 188.6,732.7 189.0,731.7 189.4,731.8 189.8,732.1 190.1,731.9 190.5,731.4 190.9,729.7 191.3,728.6 191.7,729.3 192.1,730.4 192.5,730.4 192.9,730.7 193.2,731.2 193.6,731.7 194.0,732.7 194.4,732.2 194.8,730.4 195.2,730.0 195.6,729.7 196.0,730.0 196.3,731.9 196.7,731.8 197.1,730.2 197.5,729.8 197.9,729.7 198.3,729.1 198.7,729.9 199.0,731.5 199.4,731.1 199.8,729.3 200.2,729.9 200.6,730.8 201.0,729.0 201.4,727.7 201.8,728.2 202.1,729.5 202.5,730.6 202.9,729.5 203.3,727.6 203.7,727.5 204.1,728.2 204.5,729.1 204.9,730.3 205.2,731.0 205.6,729.9 206.0,729.0 206.4,729.3 206.8,728.4 207.2,728.6 207.6,730.0 208.0,730.1 208.3,729.5 208.7,729.3 209.1,729.7 209.5,729.9 209.9,729.8 210.3,730.3 210.7,730.3 211.0,728.6 211.4,728.2 211.8,729.4 212.2,729.3 212.6,729.3 213.0,729.0 213.4,727.9 213.8,727.3 214.1,727.1 214.5,727.7 214.9,727.9 215.3,728.2 215.7,728.3 216.1,727.5 216.5,727.1 216.9,727.0 217.2,727.8 217.6,728.6 218.0,728.0 218.4,726.8 218.8,726.7 219.2,727.6 219.6,728.5 220.0,728.5 220.3,727.8 220.7,728.7 221.1,729.5 221.5,727.5 221.9,726.8 222.3,728.7 222.7,729.5 223.0,729.2 223.4,728.7 223.8,728.0 224.2,728.4 224.6,728.3 225.0,727.7 225.4,727.9 225.8,728.1 226.1,729.1 226.5,730.4 226.9,729.3 227.3,727.1 227.7,727.2 228.1,727.9 228.5,727.8 228.9,727.7 229.2,726.5 229.6,726.0 230.0,728.0 230.4,729.6 230.8,729.2 231.2,728.0 231.6,725.8 232.0,725.3 232.3,727.1 232.7,727.7 233.1,725.7 233.5,725.3 233.9,726.8 234.3,726.1 234.7,724.8 235.0,724.3 235.4,724.9 235.8,725.0" stroke="#0000ff" stroke-width="1.6"/>
<path d="M131.6,648.7 132.3,651.7 132.9,654.9 133.5,658.1 134.2,661.3 134.8,664.6 135.5,668.0 136.1,671.3 136.8,674.6 137.4,677.8 138.1,681.0 138.7,684.1 139.4,687.2 140.0,690.1 140.7,692.9 141.3,695.6 142.0,698.1 142.6,700.5 143.3,702.8 143.9,705.0 144.6,707.0 145.2,708.8 145.8,710.6 146.5,712.2 147.1,713.7 147.8,715.0 148.4,716.2 149.1,717.4 149.7,718.4 150.4,719.3 151.0,720.1 151.7,720.9 152.3,721.5 153.0,722.1 153.6,722.6 154.3,723.1 154.9,723.5 155.6,723.8 156.2,724.1 156.9,724.4 157.5,724.6 158.1,724.8 158.8,725.0 159.4,725.2 160.1,725.3 160.7,725.4 161.4,725.5 162.0,725.6" stroke="#00ff00" stroke-width="1.2"/>
<path d="M85.6,725.9 86.3,725.9 86.9,725.9 87.6,725.9 88.2,725.9 88.9,725.9 89.5,725.9 90.2,725.9 90.8,725.9 91.5,725.9 92.1,725.9 92.8,725.9 93.4,725.9 94.1,725.9 94.7,725.9 95.4,725.9 96.0,725.9 96.7,725.9 97.3,725.9 97.9,725.9 98.6,725.9 99.2,725.9 99.9,725.9 100.5,725.9 101.2,725.9 101.8,725.9 102.5,725.9 103.1,725.9 103.8,725.9 104.4,725.9 105.1,725.9 105.7,725.9 106.4,725.9 107.0,725.9 107.7,725.9 108.3,725.9 109.0,725.9 109.6,725.9 110.2,725.9 110.9,725.9 111.5,725.9 112.2,725.9 112.8,725.9 113.5,725.9 114.1,725.9 114.8,725.9 115.4,725.9 116.1,725.9 116.7,725.9 117.4,725.9 118.0,725.9 118.7,725.9 119.3,725.9 120.0,725.9 120.6,725.9 121.2,725.9 121.9,725.9 122.5,725.9 123.2,725.9 123.8,725.9 124.5,725.9 125.1,725.9 125.8,725.9 126.4,725.9 127.1,725.9 127.7,725.9 128.4,725.9 129.0,725.9 129.7,725.9 130.3,725.8 131.0,725.8 131.6,725.7 132.3,725.5 132.9,725.2 133.5,724.8 134.2,724.2 134.8,723.4 135.5,722.1 136.1,720.5 136.8,718.2 137.4,715.2 138.1,711.5 138.7,706.9 139.4,701.3 140.0,695.0 140.7,687.9 141.3,680.2 142.0,672.3 142.6,664.5 143.3,657.2 143.9,650.7 144.6,645.6 145.2,642.1 145.8,640.6 146.5,640.9 147.1,642.7 147.8,646.0 148.4,650.6 149.1,656.1 149.7,662.5 150.4,669.3 151.0,676.3 151.7,683.2 152.3,689.8 153.0,696.0 153.6,701.5 154.3,706.4 154.9,710.6 155.6,714.1 156.2,717.0 156.9,719.3 157.5,721.1 158.1,722.4 158.8,723.5 159.4,724.2 160.1,724.8 160.7,725.2 161.4,725.4 162.0,725.6 162.7,725.7" stroke="#00ff00" stroke-width="1.2"/>
<path d="M42.3,725.9 42.9,725.9 43.6,725.9 44.2,725.9 44.9,725.9 45.5,725.9 46.2,725.9 46.8,725.9 47.5,725.9 48.1,725.9 48.8,725.9 49.4,725.9 50.0,725.9 50.7,725.9 51.3,725.9 52.0,725.9 52.6,725.9 53.3,725.9 53.9,725.9 54.6,725.9 55.2,725.9 55.9,725.9 56.5,725.9 57.2,725.9 57.8,725.9 58.5,725.9 59.1,725.9 59.8,725.9 60.4,725.9 61.0,725.9 61.7,725.9 62.3,725.9 63.0,725.9 63.6,725.9 64.3,725.9 64.9,725.9 65.6,725.9 66.2,725.9 66.9,725.9 67.5,725.9 68.2,725.9 68.8,725.9 69.5,725.9 70.1,725.9 70.8,725.9 71.4,725.9 72.1,725.9 72.7,725.9 73.3,725.9 74.0,725.9 74.6,725.9 75.3,725.9 75.9,725.9 76.6,725.9 77.2,725.9 77.9,725.9 78.5,725.9 79.2,725.9 79.8,725.9 80.5,725.9 81.1,725.9 81.8,725.8 82.4,725.8 83.1,725.8 83.7,725.8 84.4,725.7 85.0,725.7 85.6,725.6 86.3,725.6 86.9,725.5 87.6,725.4 88.2,725.3 88.9,725.1 89.5,725.0 90.2,724.8 90.8,724.6 91.5,724.4 92.1,724.1 92.8,723.8 93.4,723.4 94.1,723.0 94.7,722.5 95.4,722.0 96.0,721.4 96.7,720.7 97.3,719.9 97.9,719.1 98.6,718.1 99.2,717.0 99.9,715.9 100.5,714.6 101.2,713.2 101.8,711.6 102.5,710.0 103.1,708.2 103.8,706.2 104.4,704.1 105.1,701.9 105.7,699.5 106.4,697.0 107.0,694.4 107.7,691.6 108.3,688.7 109.0,685.7 109.6,682.6 110.2,679.4 110.9,676.1 111.5,672.8 112.2,669.4 112.8,666.1 113.5,662.7 114.1,659.4 114.8,656.1 115.4,652.9 116.1,649.8 116.7,646.8 117.4,644.0 118.0,641.4 118.7,639.0 119.3,636.8 120.0,634.8 120.6,633.1 121.2,631.7 121.9,630.6 122.5,629.8 123.2,629.3 123.8,629.1 124.5,629.2 125.1,629.6 125.8,630.4 126.4,631.4 127.1,632.7 127.7,634.3 128.4,636.2 129.0,638.2 129.7,640.6 130.3,643.1 131.0,645.7 131.6,648.5 132.3,651.3 132.9,654.2 133.5,657.0 134.2,659.7 134.8,662.1 135.5,664.2 136.1,665.8 136.8,666.8 137.4,667.1 138.1,666.6 138.7,665.1 139.4,662.6 140.0,659.1 140.7,654.8 141.3,649.9 142.0,644.5 142.6,639.1 143.3,634.0 143.9,629.8 144.6,626.7 145.2,625.1 145.8,625.2 146.5,627.1 147.1,630.4 147.8,635.1 148.4,640.9 149.1,647.6 149.7,654.9 150.4,662.7 151.0,670.5 151.7,678.1 152.3,685.4 153.0,692.2 153.6,698.2 154.3,703.6 154.9,708.1 155.6,712.0 156.2,715.2 156.9,717.7 157.5,719.8 158.1,721.3 158.8,722.5 159.4,723.5 160.1,724.1 160.7,724.6 161.4,725.0 162.0,725.2 162.7,725.4 163.3,725.5 164.0,725.6 164.6,725.7 165.3,725.8 165.9,725.8 166.6,725.8 167.2,725.8 167.9,725.9 168.5,725.9 169.1,725.9 169.8,725.9 170.4,725.9 171.1,725.9 171.7,725.9 172.4,725.9 173.0,725.9 173.7,725.9 174.3,725.9 175.0,725.9 175.6,725.9 176.3,725.9 176.9,725.9 177.6,725.9 178.2,725.9 178.9,725.9 179.5,725.9 180.2,725.9 180.8,725.9 181.4,725.9 182.1,725.9 182.7,725.9 183.4,725.9 184.0,725.9 184.7,725.9 185.3,725.9 186.0,725.9 186.6,725.9 187.3,725.9 187.9,725.9 188.6,725.9 189.2,725.9 189.9,725.9 190.5,725.9 191.2,725.9 191.8,725.9 192.5,725.9 193.1,725.9 193.7,725.9 194.4,725.9 195.0,725.9 195.7,725.9 196.3,725.9 197.0,725.9 197.6,725.9 198.3,725.9 198.9,725.9 199.6,725.9 200.2,725.9 200.9,725.9 201.5,725.9 202.2,725.9 202.8,725.9 203.5,725.9 204.1,725.9 204.8,725.9 205.4,725.9 206.0,725.9 206.7,725.9 207.3,725.9 208.0,725.9 208.6,725.9 209.3,725.9 209.9,725.9 210.6,725.9 211.2,725.9 211.9,725.9 212.5,725.9 213.2,725.9 213.8,725.9 214.5,725.9 215.1,725.9 215.8,725.9 216.4,725.9 217.1,725.9 217.7,725.9 218.3,725.9 219.0,725.9 219.6,725.9 220.3,725.9 220.9,725.9 221.6,725.9 222.2,725.9 222.9,725.9 223.5,725.9 224.2,725.9 224.8,725.9 225.5,725.9 226.1,725.9 226.8,725.9 227.4,725.9 228.1,725.9 228.7,725.9 229.3,725.9 230.0,725.9 230.6,725.9 231.3,725.9 231.9,725.9 232.6,725.9 233.2,725.9 233.9,725.9 234.5,725.9 235.2,725.9 235.8,725.9" stroke="#ff0000" stroke-width="1.4"/>
</g>
<rect x="32.70" y="597.20" width="212.80" height="156.90" fill="none" stroke="#111" stroke-width="1.3"/>
<path d="M32.60,754.10v2.6 M71.31,754.10v2.6 M110.02,754.10v2.6 M148.73,754.10v2.6 M187.44,754.10v2.6 M226.15,754.10v2.6 M51.95,754.10v1.5 M90.66,754.10v1.5 M129.37,754.10v1.5 M168.08,754.10v1.5 M206.79,754.10v1.5 M245.50,754.10v1.5 M32.60,754.10h-2.8 M32.60,719.23h-2.8 M32.60,684.37h-2.8 M32.60,649.50h-2.8 M32.60,614.63h-2.8 M32.60,736.67h-1.5 M32.60,701.80h-1.5 M32.60,666.93h-1.5 M32.60,632.07h-1.5" stroke="#111" stroke-width="1.1" fill="none"/>
<text x="32.60" y="766.10" text-anchor="middle" class="tl">400</text>
<text x="71.31" y="766.10" text-anchor="middle" class="tl">800</text>
<text x="110.02" y="766.10" text-anchor="middle" class="tl">1200</text>
<text x="148.73" y="766.10" text-anchor="middle" class="tl">1600</text>
<text x="187.44" y="766.10" text-anchor="middle" class="tl">2000</text>
<text x="226.15" y="766.10" text-anchor="middle" class="tl">2400</text>
<text x="26.90" y="757.00" text-anchor="end" class="tl">100</text>
<text x="26.90" y="722.13" text-anchor="end" class="tl">200</text>
<text x="26.90" y="687.27" text-anchor="end" class="tl">300</text>
<text x="26.90" y="652.40" text-anchor="end" class="tl">400</text>
<text x="26.90" y="617.53" text-anchor="end" class="tl">500</text>
<text x="99.00" y="777.00" class="tt">Wavenumber(cm<tspan dy="-3.6" font-size="6.2">-1</tspan><tspan dy="3.6">)</tspan></text>
<text transform="translate(11.10,679.00) rotate(-90)" text-anchor="middle" class="tt">Intensity</text>
<text transform="translate(37.50,629.90) scale(1,0.93)" class="pl">(g)</text>
<path d="M181.50,608.10H204.50" stroke="#0000ff" stroke-width="1.25"/>
<text x="207.60" y="611.50" class="lg">AEGS2</text>
<text x="157.10" y="711.70" class="rt">I<tspan x="162.30" dy="6.4" font-size="12">D</tspan><tspan x="170.50" dy="-6.4">/I</tspan><tspan x="181.00" dy="6.4" font-size="12">G</tspan><tspan x="191.40" dy="-6.4">=1.99</tspan></text>
<clipPath id="cliph"><rect x="330.50" y="597.30" width="213.50" height="156.80"/></clipPath>
<g clip-path="url(#cliph)" fill="none" stroke-linejoin="round" stroke-linecap="round">
<path d="M340.2,733.0 340.6,733.5 341.0,732.6 341.4,732.5 341.8,732.9 342.1,732.0 342.5,730.5 342.9,728.8 343.3,727.3 343.7,727.1 344.1,727.9 344.5,728.7 344.9,727.6 345.3,727.6 345.6,728.9 346.0,729.0 346.4,728.1 346.8,728.0 347.2,729.4 347.6,729.6 348.0,728.6 348.4,729.5 348.7,730.5 349.1,729.6 349.5,729.1 349.9,729.4 350.3,729.2 350.7,729.9 351.1,730.1 351.5,728.8 351.9,730.4 352.2,732.1 352.6,729.5 353.0,727.7 353.4,727.9 353.8,726.6 354.2,726.8 354.6,730.5 355.0,733.0 355.3,731.1 355.7,728.8 356.1,730.1 356.5,731.9 356.9,731.4 357.3,729.7 357.7,728.5 358.1,727.4 358.4,727.9 358.8,729.5 359.2,730.3 359.6,730.3 360.0,730.2 360.4,730.9 360.8,729.8 361.2,727.2 361.6,727.3 361.9,726.7 362.3,725.2 362.7,726.7 363.1,728.6 363.5,729.3 363.9,729.0 364.3,728.1 364.7,727.4 365.0,726.9 365.4,728.0 365.8,729.1 366.2,728.5 366.6,727.5 367.0,726.6 367.4,726.4 367.8,727.4 368.2,726.4 368.5,725.2 368.9,726.2 369.3,725.8 369.7,724.7 370.1,725.8 370.5,728.4 370.9,728.0 371.3,724.8 371.6,723.9 372.0,725.0 372.4,725.1 372.8,724.2 373.2,724.6 373.6,726.4 374.0,727.0 374.4,726.6 374.8,726.6 375.1,727.6 375.5,728.3 375.9,727.4 376.3,726.8 376.7,727.2 377.1,726.1 377.5,725.1 377.9,726.0 378.2,726.8 378.6,726.0 379.0,725.5 379.4,726.6 379.8,726.5 380.2,725.5 380.6,725.0 381.0,725.4 381.4,724.8 381.7,722.8 382.1,723.8 382.5,726.2 382.9,725.8 383.3,724.0 383.7,723.8 384.1,724.3 384.5,724.1 384.8,724.7 385.2,724.1 385.6,721.1 386.0,720.0 386.4,721.4 386.8,721.4 387.2,720.8 387.6,721.5 388.0,721.0 388.3,719.5 388.7,718.7 389.1,719.0 389.5,719.1 389.9,719.0 390.3,719.0 390.7,718.2 391.1,718.5 391.4,718.9 391.8,717.7 392.2,716.1 392.6,715.2 393.0,714.9 393.4,713.7 393.8,713.0 394.2,714.1 394.6,714.2 394.9,712.4 395.3,712.8 395.7,714.8 396.1,713.6 396.5,712.0 396.9,712.1 397.3,712.2 397.7,711.1 398.0,708.7 398.4,707.1 398.8,705.8 399.2,704.7 399.6,705.2 400.0,704.0 400.4,702.4 400.8,702.9 401.1,702.7 401.5,702.1 401.9,699.4 402.3,696.4 402.7,697.0 403.1,696.4 403.5,694.0 403.9,694.3 404.3,694.2 404.6,693.3 405.0,692.4 405.4,689.2 405.8,686.6 406.2,686.5 406.6,686.6 407.0,685.8 407.4,686.0 407.7,686.9 408.1,684.5 408.5,682.5 408.9,681.9 409.3,679.8 409.7,678.0 410.1,676.6 410.5,674.8 410.9,673.0 411.2,671.4 411.6,669.8 412.0,667.7 412.4,665.3 412.8,663.1 413.2,660.5 413.6,657.0 414.0,653.3 414.3,649.9 414.7,646.7 415.1,644.9 415.5,644.3 415.9,642.5 416.3,639.0 416.7,635.4 417.1,632.1 417.5,628.1 417.8,625.1 418.2,623.2 418.6,620.7 419.0,618.9 419.4,617.3 419.8,614.9 420.2,612.9 420.6,611.4 420.9,609.8 421.3,609.2 421.7,609.9 422.1,610.4 422.5,610.8 422.9,612.3 423.3,614.6 423.7,616.6 424.1,618.2 424.4,621.2 424.8,625.7 425.2,629.9 425.6,631.4 426.0,631.4 426.4,632.5 426.8,634.2 427.2,636.8 427.5,639.4 427.9,640.8 428.3,642.4 428.7,644.5 429.1,645.9 429.5,647.2 429.9,649.5 430.3,651.1 430.7,651.2 431.0,652.7 431.4,655.5 431.8,656.7 432.2,655.9 432.6,655.5 433.0,656.6 433.4,657.6 433.8,658.2 434.1,659.6 434.5,660.3 434.9,660.5 435.3,661.3 435.7,661.6 436.1,661.4 436.5,661.2 436.9,661.4 437.2,661.6 437.6,661.2 438.0,659.4 438.4,657.2 438.8,655.7 439.2,654.3 439.6,651.9 440.0,649.3 440.4,646.0 440.7,641.2 441.1,636.9 441.5,633.7 441.9,630.4 442.3,626.8 442.7,623.1 443.1,619.5 443.5,616.3 443.8,614.2 444.2,613.3 444.6,613.3 445.0,614.6 445.4,617.1 445.8,620.9 446.2,625.8 446.6,630.9 447.0,636.2 447.3,642.4 447.7,649.3 448.1,657.1 448.5,663.6 448.9,670.1 449.3,678.8 449.7,685.6 450.1,689.2 450.4,693.5 450.8,699.3 451.2,703.2 451.6,706.6 452.0,711.7 452.4,714.7 452.8,716.5 453.2,720.5 453.6,723.2 453.9,723.7 454.3,724.4 454.7,724.6 455.1,726.7 455.5,729.3 455.9,729.0 456.3,729.0 456.7,729.3 457.0,729.8 457.4,732.2 457.8,733.2 458.2,731.6 458.6,731.4 459.0,733.1 459.4,733.7 459.8,734.0 460.2,734.6 460.5,734.5 460.9,734.6 461.3,734.0 461.7,733.7 462.1,734.9 462.5,735.9 462.9,736.1 463.3,736.7 463.6,737.4 464.0,736.9 464.4,736.0 464.8,734.2 465.2,732.5 465.6,734.2 466.0,736.3 466.4,737.3 466.8,737.2 467.1,736.7 467.5,735.6 467.9,734.7 468.3,736.3 468.7,737.7 469.1,737.5 469.5,737.6 469.9,736.4 470.2,734.4 470.6,734.2 471.0,734.8 471.4,735.8 471.8,737.6 472.2,739.1 472.6,738.8 473.0,737.6 473.4,736.1 473.7,735.4 474.1,736.5 474.5,736.8 474.9,734.8 475.3,734.7 475.7,736.6 476.1,736.9 476.5,736.5 476.8,737.0 477.2,737.2 477.6,736.9 478.0,737.1 478.4,738.2 478.8,740.2 479.2,739.3 479.6,737.4 479.9,738.1 480.3,737.8 480.7,736.9 481.1,737.7 481.5,737.8 481.9,736.8 482.3,737.0 482.7,738.8 483.1,739.8 483.4,739.3 483.8,739.4 484.2,739.5 484.6,737.9 485.0,736.6 485.4,736.7 485.8,737.5 486.2,737.6 486.5,736.5 486.9,735.2 487.3,734.7 487.7,736.7 488.1,738.4 488.5,736.3 488.9,734.9 489.3,736.8 489.7,738.8 490.0,738.1 490.4,736.8 490.8,737.8 491.2,738.8 491.6,739.3 492.0,740.3 492.4,740.6 492.8,740.5 493.1,739.5 493.5,737.9 493.9,737.9 494.3,738.5 494.7,738.6 495.1,740.1 495.5,741.0 495.9,739.6 496.3,739.1 496.6,740.8 497.0,742.2 497.4,740.6 497.8,739.0 498.2,738.5 498.6,738.5 499.0,738.3 499.4,737.0 499.7,737.2 500.1,739.9 500.5,743.2 500.9,742.3 501.3,738.6 501.7,737.5 502.1,738.2 502.5,739.2 502.9,739.2 503.2,739.0 503.6,738.9 504.0,738.6 504.4,739.4 504.8,739.5 505.2,738.8 505.6,737.9 506.0,737.8 506.3,739.0 506.7,738.7 507.1,737.7 507.5,737.5 507.9,738.3 508.3,738.7 508.7,737.3 509.1,736.1 509.5,736.5 509.8,737.4 510.2,738.5 510.6,740.0 511.0,739.7 511.4,738.9 511.8,739.2 512.2,739.1 512.6,738.2 512.9,736.4 513.3,735.9 513.7,738.2 514.1,738.8 514.5,737.2 514.9,737.7 515.3,738.0 515.7,736.8 516.1,737.5 516.4,738.8 516.8,739.4 517.2,739.3 517.6,738.9 518.0,737.6 518.4,735.5 518.8,736.4 519.2,738.5 519.5,738.9 519.9,737.6 520.3,736.6 520.7,737.8 521.1,739.3 521.5,739.9 521.9,739.3 522.3,737.0 522.6,736.4 523.0,737.3 523.4,737.9 523.8,738.6 524.2,738.0 524.6,737.1 525.0,737.2 525.4,737.3 525.8,737.2 526.1,737.2 526.5,736.5 526.9,736.3 527.3,736.7 527.7,737.0 528.1,737.8 528.5,738.4 528.9,737.4 529.2,736.1 529.6,735.5 530.0,735.6 530.4,736.3 530.8,736.7 531.2,736.2 531.6,735.4 532.0,735.3 532.4,735.3 532.7,735.6 533.1,735.5 533.5,735.1 533.9,736.1 534.3,735.6" stroke="#0000ff" stroke-width="1.6"/>
<path d="M430.4,646.6 431.1,649.8 431.7,653.1 432.4,656.5 433.0,659.9 433.7,663.4 434.3,666.8 435.0,670.3 435.6,673.8 436.3,677.2 436.9,680.5 437.6,683.8 438.2,687.0 438.9,690.0 439.5,693.0 440.2,695.9 440.8,698.6 441.5,701.3 442.1,703.7 442.8,706.1 443.4,708.3 444.1,710.4 444.7,712.4 445.4,714.2 446.0,715.9 446.7,717.4 447.3,718.9 448.0,720.2 448.6,721.4 449.3,722.6 449.9,723.6 450.6,724.5 451.2,725.3 451.9,726.1 452.5,726.8 453.2,727.4 453.8,727.9 454.5,728.4 455.1,728.8 455.8,729.2 456.4,729.6 457.0,729.9 457.7,730.1" stroke="#00ff00" stroke-width="1.2"/>
<path d="M367.5,732.4 368.1,732.4 368.8,732.4 369.4,732.4 370.1,732.4 370.7,732.4 371.4,732.4 372.0,732.4 372.7,732.4 373.3,732.4 374.0,732.4 374.6,732.4 375.3,732.4 375.9,732.4 376.6,732.4 377.2,732.4 377.9,732.4 378.5,732.4 379.2,732.4 379.8,732.4 380.5,732.4 381.1,732.4 381.7,732.4 382.4,732.4 383.0,732.4 383.7,732.4 384.3,732.4 385.0,732.4 385.6,732.4 386.3,732.4 386.9,732.4 387.6,732.4 388.2,732.4 388.9,732.4 389.5,732.4 390.2,732.4 390.8,732.4 391.5,732.4 392.1,732.4 392.8,732.4 393.4,732.4 394.1,732.4 394.7,732.4 395.4,732.4 396.0,732.4 396.7,732.4 397.3,732.4 398.0,732.4 398.6,732.4 399.3,732.4 399.9,732.4 400.6,732.4 401.2,732.4 401.9,732.4 402.5,732.4 403.2,732.4 403.8,732.4 404.5,732.4 405.1,732.4 405.8,732.4 406.4,732.4 407.1,732.4 407.7,732.4 408.4,732.4 409.0,732.4 409.7,732.4 410.3,732.4 411.0,732.4 411.6,732.4 412.3,732.4 412.9,732.3 413.6,732.3 414.2,732.3 414.9,732.3 415.5,732.3 416.2,732.3 416.8,732.3 417.5,732.3 418.1,732.3 418.7,732.3 419.4,732.3 420.0,732.3 420.7,732.3 421.3,732.3 422.0,732.3 422.6,732.3 423.3,732.3 423.9,732.3 424.6,732.3 425.2,732.3 425.9,732.3 426.5,732.3 427.2,732.3 427.8,732.3 428.5,732.3 429.1,732.3 429.8,732.2 430.4,732.1 431.1,732.0 431.7,731.7 432.4,731.3 433.0,730.8 433.7,729.9 434.3,728.7 435.0,726.9 435.6,724.6 436.3,721.5 436.9,717.6 437.6,712.7 438.2,706.9 438.9,700.0 439.5,692.4 440.2,684.0 440.8,675.3 441.5,666.7 442.1,658.6 442.8,651.4 443.4,645.7 444.1,641.8 444.7,640.0 445.4,640.5 446.0,643.9 446.7,649.8 447.3,657.7 448.0,667.0 448.6,676.9 449.3,686.8 449.9,696.1 450.6,704.4 451.2,711.4 451.9,717.2 452.5,721.7 453.2,725.1 453.8,727.6 454.5,729.3 455.1,730.5 455.8,731.2 456.4,731.7 457.0,732.0 457.7,732.1 458.3,732.2 459.0,732.3 459.6,732.3 460.3,732.3 460.9,732.3 461.6,732.3 462.2,732.3 462.9,732.3 463.5,732.3 464.2,732.3 464.8,732.3 465.5,732.3 466.1,732.3 466.8,732.3 467.4,732.3 468.1,732.3 468.7,732.3 469.4,732.3 470.0,732.3 470.7,732.3 471.3,732.3 472.0,732.3 472.6,732.3 473.3,732.4 473.9,732.4 474.6,732.4 475.2,732.4 475.9,732.4 476.5,732.4 477.2,732.4 477.8,732.4 478.5,732.4 479.1,732.4" stroke="#00ff00" stroke-width="1.2"/>
<path d="M340.2,732.2 340.9,732.2 341.5,732.2 342.2,732.2 342.8,732.2 343.5,732.2 344.1,732.2 344.7,732.2 345.4,732.2 346.0,732.2 346.7,732.2 347.3,732.2 348.0,732.2 348.6,732.2 349.3,732.2 349.9,732.2 350.6,732.1 351.2,732.1 351.9,732.1 352.5,732.1 353.2,732.1 353.8,732.1 354.5,732.1 355.1,732.1 355.8,732.1 356.4,732.1 357.1,732.1 357.7,732.1 358.4,732.1 359.0,732.1 359.7,732.1 360.3,732.1 361.0,732.1 361.6,732.1 362.3,732.1 362.9,732.1 363.6,732.1 364.2,732.0 364.9,732.0 365.5,732.0 366.2,732.0 366.8,732.0 367.5,732.0 368.1,732.0 368.8,732.0 369.4,732.0 370.1,732.0 370.7,732.0 371.4,732.0 372.0,731.9 372.7,731.9 373.3,731.9 374.0,731.9 374.6,731.9 375.3,731.9 375.9,731.8 376.6,731.8 377.2,731.8 377.9,731.8 378.5,731.7 379.2,731.7 379.8,731.7 380.5,731.6 381.1,731.6 381.7,731.5 382.4,731.5 383.0,731.4 383.7,731.3 384.3,731.2 385.0,731.1 385.6,730.9 386.3,730.8 386.9,730.6 387.6,730.4 388.2,730.1 388.9,729.8 389.5,729.5 390.2,729.2 390.8,728.8 391.5,728.3 392.1,727.8 392.8,727.2 393.4,726.5 394.1,725.8 394.7,725.0 395.4,724.1 396.0,723.0 396.7,721.9 397.3,720.7 398.0,719.3 398.6,717.9 399.3,716.3 399.9,714.5 400.6,712.6 401.2,710.6 401.9,708.4 402.5,706.1 403.2,703.6 403.8,701.0 404.5,698.3 405.1,695.4 405.8,692.3 406.4,689.2 407.1,685.9 407.7,682.6 408.4,679.1 409.0,675.6 409.7,672.0 410.3,668.4 411.0,664.7 411.6,661.1 412.3,657.5 412.9,654.0 413.6,650.5 414.2,647.2 414.9,643.9 415.5,640.9 416.2,638.0 416.8,635.3 417.5,632.9 418.1,630.7 418.7,628.8 419.4,627.2 420.0,625.9 420.7,625.0 421.3,624.4 422.0,624.1 422.6,624.2 423.3,624.5 423.9,625.2 424.6,626.2 425.2,627.5 425.9,629.1 426.5,630.9 427.2,633.0 427.8,635.4 428.5,637.9 429.1,640.6 429.8,643.5 430.4,646.4 431.1,649.4 431.7,652.5 432.4,655.5 433.0,658.3 433.7,660.9 434.3,663.1 435.0,664.9 435.6,666.0 436.3,666.3 436.9,665.8 437.6,664.2 438.2,661.5 438.9,657.7 439.5,653.0 440.2,647.6 440.8,641.6 441.5,635.6 442.1,630.0 442.8,625.2 443.4,621.7 444.1,619.8 444.7,620.0 445.4,622.3 446.0,627.4 446.7,634.9 447.3,644.2 448.0,654.8 448.6,666.0 449.3,677.0 449.9,687.3 450.6,696.5 451.2,704.4 451.9,710.9 452.5,716.1 453.2,720.1 453.8,723.2 454.5,725.4 455.1,726.9 455.8,728.1 456.4,728.9 457.0,729.5 457.7,729.9 458.3,730.2 459.0,730.5 459.6,730.7 460.3,730.9 460.9,731.0 461.6,731.1 462.2,731.2 462.9,731.3 463.5,731.4 464.2,731.5 464.8,731.5 465.5,731.6 466.1,731.6 466.8,731.7 467.4,731.7 468.1,731.8 468.7,731.8 469.4,731.8 470.0,731.8 470.7,731.8 471.3,731.9 472.0,731.9 472.6,731.9 473.3,731.9 473.9,731.9 474.6,731.9 475.2,731.9 475.9,732.0 476.5,732.0 477.2,732.0 477.8,732.0 478.5,732.0 479.1,732.0 479.8,732.0 480.4,732.0 481.1,732.0 481.7,732.0 482.4,732.0 483.0,732.0 483.7,732.1 484.3,732.1 485.0,732.1 485.6,732.1 486.3,732.1 486.9,732.1 487.6,732.1 488.2,732.1 488.9,732.1 489.5,732.1 490.2,732.1 490.8,732.1 491.5,732.1 492.1,732.1 492.8,732.1 493.4,732.1 494.0,732.1 494.7,732.1 495.3,732.1 496.0,732.1 496.6,732.1 497.3,732.1 497.9,732.2 498.6,732.2 499.2,732.2 499.9,732.2 500.5,732.2 501.2,732.2 501.8,732.2 502.5,732.2 503.1,732.2 503.8,732.2 504.4,732.2 505.1,732.2 505.7,732.2 506.4,732.2 507.0,732.2 507.7,732.2 508.3,732.2 509.0,732.2 509.6,732.2 510.3,732.2 510.9,732.2 511.6,732.2 512.2,732.2 512.9,732.2 513.5,732.2 514.2,732.2 514.8,732.2 515.5,732.2 516.1,732.2 516.8,732.2 517.4,732.2 518.1,732.2 518.7,732.2 519.4,732.2 520.0,732.2 520.7,732.2 521.3,732.2 522.0,732.2 522.6,732.2 523.3,732.2 523.9,732.2 524.6,732.2 525.2,732.2 525.9,732.2 526.5,732.2 527.2,732.2 527.8,732.2 528.5,732.2 529.1,732.2 529.8,732.3 530.4,732.3 531.0,732.3 531.7,732.3 532.3,732.3 533.0,732.3 533.6,732.3 534.3,732.3" stroke="#ff0000" stroke-width="1.4"/>
</g>
<rect x="330.60" y="597.30" width="213.40" height="156.80" fill="none" stroke="#111" stroke-width="1.3"/>
<path d="M330.50,754.10v2.6 M369.32,754.10v2.6 M408.14,754.10v2.6 M446.95,754.10v2.6 M485.77,754.10v2.6 M524.59,754.10v2.6 M349.91,754.10v1.5 M388.73,754.10v1.5 M427.55,754.10v1.5 M466.36,754.10v1.5 M505.18,754.10v1.5 M544.00,754.10v1.5 M330.50,754.10h-2.8 M330.50,714.90h-2.8 M330.50,675.70h-2.8 M330.50,636.50h-2.8 M330.50,597.30h-2.8 M330.50,734.50h-1.5 M330.50,695.30h-1.5 M330.50,656.10h-1.5 M330.50,616.90h-1.5" stroke="#111" stroke-width="1.1" fill="none"/>
<text x="330.50" y="766.10" text-anchor="middle" class="tl">400</text>
<text x="369.32" y="766.10" text-anchor="middle" class="tl">800</text>
<text x="408.14" y="766.10" text-anchor="middle" class="tl">1200</text>
<text x="446.95" y="766.10" text-anchor="middle" class="tl">1600</text>
<text x="485.77" y="766.10" text-anchor="middle" class="tl">2000</text>
<text x="524.59" y="766.10" text-anchor="middle" class="tl">2400</text>
<text x="324.80" y="757.00" text-anchor="end" class="tl">100</text>
<text x="324.80" y="717.80" text-anchor="end" class="tl">200</text>
<text x="324.80" y="678.60" text-anchor="end" class="tl">300</text>
<text x="324.80" y="639.40" text-anchor="end" class="tl">400</text>
<text x="324.80" y="600.20" text-anchor="end" class="tl">500</text>
<text x="398.00" y="776.00" class="tt">Wavenumber(cm<tspan dy="-3.6" font-size="6.2">-1</tspan><tspan dy="3.6">)</tspan></text>
<text transform="translate(308.30,683.80) rotate(-90)" text-anchor="middle" class="tt">Intensity</text>
<text transform="translate(340.40,634.60) scale(1,0.93)" class="pl">(h)</text>
<path d="M481.60,606.00H504.40" stroke="#0000ff" stroke-width="1.25"/>
<text x="507.60" y="609.40" class="lg">AEGS3</text>
<text x="458.70" y="710.40" class="rt">I<tspan x="463.90" dy="6.4" font-size="12">D</tspan><tspan x="472.10" dy="-6.4">/I</tspan><tspan x="482.60" dy="6.4" font-size="12">G</tspan><tspan x="493.00" dy="-6.4">=1.65</tspan></text>
<rect x="300" y="190" width="30" height="9.6" fill="#fff"/>
</svg>
</body></html>
